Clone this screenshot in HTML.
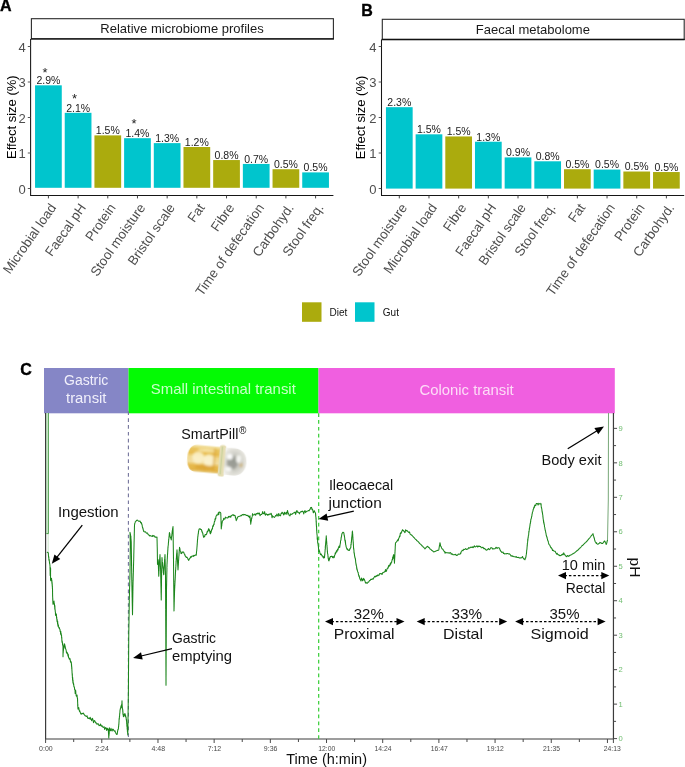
<!DOCTYPE html>
<html><head><meta charset="utf-8"><title>Figure</title>
<style>html,body{margin:0;padding:0;background:#fff}body{width:685px;height:767px;overflow:hidden}</style></head>
<body>
<svg width="685" height="767" viewBox="0 0 685 767" style="display:block">
<rect x="31.400000000000002" y="18.7" width="301.99999999999994" height="20.2" fill="#fff" stroke="#2a2a2a" stroke-width="1.1"/>
<path d="M30.900000000000002 38.9H333.9" stroke="#111" stroke-width="1.3"/>
<text x="182.0" y="33.4" text-anchor="middle" style="font-family:'Liberation Sans',Arial,sans-serif;font-size:13px" fill="#1a1a1a">Relative microbiome profiles</text>
<path d="M30.6 38.9V195.4H333.4" fill="none" stroke="#161616" stroke-width="1.05"/>
<path d="M27.8 188.5H30.6" stroke="#444" stroke-width="0.9"/>
<text x="25.700000000000003" y="193.6" text-anchor="end" style="font-family:'Liberation Sans',Arial,sans-serif;font-size:13px" fill="#4d4d4d">0</text>
<path d="M27.8 153.0H30.6" stroke="#444" stroke-width="0.9"/>
<text x="25.700000000000003" y="158.1" text-anchor="end" style="font-family:'Liberation Sans',Arial,sans-serif;font-size:13px" fill="#4d4d4d">1</text>
<path d="M27.8 117.5H30.6" stroke="#444" stroke-width="0.9"/>
<text x="25.700000000000003" y="122.6" text-anchor="end" style="font-family:'Liberation Sans',Arial,sans-serif;font-size:13px" fill="#4d4d4d">2</text>
<path d="M27.8 82.0H30.6" stroke="#444" stroke-width="0.9"/>
<text x="25.700000000000003" y="87.1" text-anchor="end" style="font-family:'Liberation Sans',Arial,sans-serif;font-size:13px" fill="#4d4d4d">3</text>
<path d="M27.8 46.5H30.6" stroke="#444" stroke-width="0.9"/>
<text x="25.700000000000003" y="51.6" text-anchor="end" style="font-family:'Liberation Sans',Arial,sans-serif;font-size:13px" fill="#4d4d4d">4</text>
<text transform="translate(16.0,117.15) rotate(-90)" text-anchor="middle" style="font-family:'Liberation Sans',Arial,sans-serif;font-size:13px" fill="#000">Effect size (%)</text>
<rect x="35.05" y="85.32" width="26.72" height="102.48" fill="#00c5cd"/>
<text x="48.41" y="84.12" text-anchor="middle" style="font-family:'Liberation Sans',Arial,sans-serif;font-size:10.5px" fill="#222">2.9%</text>
<text x="44.91" y="77.12" text-anchor="middle" style="font-family:'Liberation Sans',Arial,sans-serif;font-size:13px" fill="#222">*</text>
<path d="M48.41 195.4v3" stroke="#333" stroke-width="0.9"/>
<text transform="translate(49.01,202.10) rotate(-55)" text-anchor="end" dy="0.72em" style="font-family:'Liberation Sans',Arial,sans-serif;font-size:13.3px" fill="#4d4d4d">Microbial load</text>
<rect x="64.74" y="112.82" width="26.72" height="74.98" fill="#00c5cd"/>
<text x="78.10" y="111.62" text-anchor="middle" style="font-family:'Liberation Sans',Arial,sans-serif;font-size:10.5px" fill="#222">2.1%</text>
<text x="74.60" y="103.22" text-anchor="middle" style="font-family:'Liberation Sans',Arial,sans-serif;font-size:13px" fill="#222">*</text>
<path d="M78.10 195.4v3" stroke="#333" stroke-width="0.9"/>
<text transform="translate(78.70,202.10) rotate(-55)" text-anchor="end" dy="0.72em" style="font-family:'Liberation Sans',Arial,sans-serif;font-size:13.3px" fill="#4d4d4d">Faecal pH</text>
<rect x="94.43" y="135.38" width="26.72" height="52.42" fill="#abab0d"/>
<text x="107.78" y="134.18" text-anchor="middle" style="font-family:'Liberation Sans',Arial,sans-serif;font-size:10.5px" fill="#222">1.5%</text>
<path d="M107.78 195.4v3" stroke="#333" stroke-width="0.9"/>
<text transform="translate(108.38,202.10) rotate(-55)" text-anchor="end" dy="0.72em" style="font-family:'Liberation Sans',Arial,sans-serif;font-size:13.3px" fill="#4d4d4d">Protein</text>
<rect x="124.11" y="138.20" width="26.72" height="49.60" fill="#00c5cd"/>
<text x="137.47" y="137.00" text-anchor="middle" style="font-family:'Liberation Sans',Arial,sans-serif;font-size:10.5px" fill="#222">1.4%</text>
<text x="133.97" y="128.00" text-anchor="middle" style="font-family:'Liberation Sans',Arial,sans-serif;font-size:13px" fill="#222">*</text>
<path d="M137.47 195.4v3" stroke="#333" stroke-width="0.9"/>
<text transform="translate(138.07,202.10) rotate(-55)" text-anchor="end" dy="0.72em" style="font-family:'Liberation Sans',Arial,sans-serif;font-size:13.3px" fill="#4d4d4d">Stool moisture</text>
<rect x="153.80" y="143.13" width="26.72" height="44.67" fill="#00c5cd"/>
<text x="167.16" y="141.93" text-anchor="middle" style="font-family:'Liberation Sans',Arial,sans-serif;font-size:10.5px" fill="#222">1.3%</text>
<path d="M167.16 195.4v3" stroke="#333" stroke-width="0.9"/>
<text transform="translate(167.76,202.10) rotate(-55)" text-anchor="end" dy="0.72em" style="font-family:'Liberation Sans',Arial,sans-serif;font-size:13.3px" fill="#4d4d4d">Bristol scale</text>
<rect x="183.48" y="147.01" width="26.72" height="40.79" fill="#abab0d"/>
<text x="196.84" y="145.81" text-anchor="middle" style="font-family:'Liberation Sans',Arial,sans-serif;font-size:10.5px" fill="#222">1.2%</text>
<path d="M196.84 195.4v3" stroke="#333" stroke-width="0.9"/>
<text transform="translate(197.44,202.10) rotate(-55)" text-anchor="end" dy="0.72em" style="font-family:'Liberation Sans',Arial,sans-serif;font-size:13.3px" fill="#4d4d4d">Fat</text>
<rect x="213.17" y="160.05" width="26.72" height="27.75" fill="#abab0d"/>
<text x="226.53" y="158.85" text-anchor="middle" style="font-family:'Liberation Sans',Arial,sans-serif;font-size:10.5px" fill="#222">0.8%</text>
<path d="M226.53 195.4v3" stroke="#333" stroke-width="0.9"/>
<text transform="translate(227.13,202.10) rotate(-55)" text-anchor="end" dy="0.72em" style="font-family:'Liberation Sans',Arial,sans-serif;font-size:13.3px" fill="#4d4d4d">Fibre</text>
<rect x="242.86" y="163.93" width="26.72" height="23.87" fill="#00c5cd"/>
<text x="256.22" y="162.73" text-anchor="middle" style="font-family:'Liberation Sans',Arial,sans-serif;font-size:10.5px" fill="#222">0.7%</text>
<path d="M256.22 195.4v3" stroke="#333" stroke-width="0.9"/>
<text transform="translate(256.82,202.10) rotate(-55)" text-anchor="end" dy="0.72em" style="font-family:'Liberation Sans',Arial,sans-serif;font-size:13.3px" fill="#4d4d4d">Time of defecation</text>
<rect x="272.54" y="169.22" width="26.72" height="18.58" fill="#abab0d"/>
<text x="285.90" y="168.02" text-anchor="middle" style="font-family:'Liberation Sans',Arial,sans-serif;font-size:10.5px" fill="#222">0.5%</text>
<path d="M285.90 195.4v3" stroke="#333" stroke-width="0.9"/>
<text transform="translate(286.50,202.10) rotate(-55)" text-anchor="end" dy="0.72em" style="font-family:'Liberation Sans',Arial,sans-serif;font-size:13.3px" fill="#4d4d4d">Carbohyd.</text>
<rect x="302.23" y="172.39" width="26.72" height="15.41" fill="#00c5cd"/>
<text x="315.59" y="171.19" text-anchor="middle" style="font-family:'Liberation Sans',Arial,sans-serif;font-size:10.5px" fill="#222">0.5%</text>
<path d="M315.59 195.4v3" stroke="#333" stroke-width="0.9"/>
<text transform="translate(316.19,202.10) rotate(-55)" text-anchor="end" dy="0.72em" style="font-family:'Liberation Sans',Arial,sans-serif;font-size:13.3px" fill="#4d4d4d">Stool freq.</text>
<text x="0" y="11" style="font-family:'Liberation Sans',Arial,sans-serif;font-size:16px;font-weight:bold" fill="#000" stroke="#000" stroke-width="0.35">A</text>
<rect x="382.3" y="19.3" width="301.90000000000003" height="20.2" fill="#fff" stroke="#2a2a2a" stroke-width="1.1"/>
<path d="M381.8 39.5H684.7" stroke="#111" stroke-width="1.3"/>
<text x="532.85" y="34.0" text-anchor="middle" style="font-family:'Liberation Sans',Arial,sans-serif;font-size:13px" fill="#1a1a1a">Faecal metabolome</text>
<path d="M381.5 39.5V195.4H684.2" fill="none" stroke="#161616" stroke-width="1.05"/>
<path d="M378.7 188.5H381.5" stroke="#444" stroke-width="0.9"/>
<text x="376.6" y="193.6" text-anchor="end" style="font-family:'Liberation Sans',Arial,sans-serif;font-size:13px" fill="#4d4d4d">0</text>
<path d="M378.7 153.0H381.5" stroke="#444" stroke-width="0.9"/>
<text x="376.6" y="158.1" text-anchor="end" style="font-family:'Liberation Sans',Arial,sans-serif;font-size:13px" fill="#4d4d4d">1</text>
<path d="M378.7 117.5H381.5" stroke="#444" stroke-width="0.9"/>
<text x="376.6" y="122.6" text-anchor="end" style="font-family:'Liberation Sans',Arial,sans-serif;font-size:13px" fill="#4d4d4d">2</text>
<path d="M378.7 82.0H381.5" stroke="#444" stroke-width="0.9"/>
<text x="376.6" y="87.1" text-anchor="end" style="font-family:'Liberation Sans',Arial,sans-serif;font-size:13px" fill="#4d4d4d">3</text>
<path d="M378.7 46.5H381.5" stroke="#444" stroke-width="0.9"/>
<text x="376.6" y="51.6" text-anchor="end" style="font-family:'Liberation Sans',Arial,sans-serif;font-size:13px" fill="#4d4d4d">4</text>
<text transform="translate(364.9,117.45) rotate(-90)" text-anchor="middle" style="font-family:'Liberation Sans',Arial,sans-serif;font-size:13px" fill="#000">Effect size (%)</text>
<rect x="385.95" y="107.18" width="26.71" height="81.42" fill="#00c5cd"/>
<text x="399.31" y="105.98" text-anchor="middle" style="font-family:'Liberation Sans',Arial,sans-serif;font-size:10.5px" fill="#222">2.3%</text>
<path d="M399.31 195.4v3" stroke="#333" stroke-width="0.9"/>
<text transform="translate(399.91,202.10) rotate(-55)" text-anchor="end" dy="0.72em" style="font-family:'Liberation Sans',Arial,sans-serif;font-size:13.3px" fill="#4d4d4d">Stool moisture</text>
<rect x="415.63" y="134.32" width="26.71" height="54.28" fill="#00c5cd"/>
<text x="428.98" y="133.12" text-anchor="middle" style="font-family:'Liberation Sans',Arial,sans-serif;font-size:10.5px" fill="#222">1.5%</text>
<path d="M428.98 195.4v3" stroke="#333" stroke-width="0.9"/>
<text transform="translate(429.58,202.10) rotate(-55)" text-anchor="end" dy="0.72em" style="font-family:'Liberation Sans',Arial,sans-serif;font-size:13.3px" fill="#4d4d4d">Microbial load</text>
<rect x="445.30" y="136.44" width="26.71" height="52.16" fill="#abab0d"/>
<text x="458.66" y="135.24" text-anchor="middle" style="font-family:'Liberation Sans',Arial,sans-serif;font-size:10.5px" fill="#222">1.5%</text>
<path d="M458.66 195.4v3" stroke="#333" stroke-width="0.9"/>
<text transform="translate(459.26,202.10) rotate(-55)" text-anchor="end" dy="0.72em" style="font-family:'Liberation Sans',Arial,sans-serif;font-size:13.3px" fill="#4d4d4d">Fibre</text>
<rect x="474.98" y="141.72" width="26.71" height="46.88" fill="#00c5cd"/>
<text x="488.34" y="140.52" text-anchor="middle" style="font-family:'Liberation Sans',Arial,sans-serif;font-size:10.5px" fill="#222">1.3%</text>
<path d="M488.34 195.4v3" stroke="#333" stroke-width="0.9"/>
<text transform="translate(488.94,202.10) rotate(-55)" text-anchor="end" dy="0.72em" style="font-family:'Liberation Sans',Arial,sans-serif;font-size:13.3px" fill="#4d4d4d">Faecal pH</text>
<rect x="504.66" y="157.41" width="26.71" height="31.19" fill="#00c5cd"/>
<text x="518.01" y="156.21" text-anchor="middle" style="font-family:'Liberation Sans',Arial,sans-serif;font-size:10.5px" fill="#222">0.9%</text>
<path d="M518.01 195.4v3" stroke="#333" stroke-width="0.9"/>
<text transform="translate(518.61,202.10) rotate(-55)" text-anchor="end" dy="0.72em" style="font-family:'Liberation Sans',Arial,sans-serif;font-size:13.3px" fill="#4d4d4d">Bristol scale</text>
<rect x="534.33" y="161.29" width="26.71" height="27.31" fill="#00c5cd"/>
<text x="547.69" y="160.09" text-anchor="middle" style="font-family:'Liberation Sans',Arial,sans-serif;font-size:10.5px" fill="#222">0.8%</text>
<path d="M547.69 195.4v3" stroke="#333" stroke-width="0.9"/>
<text transform="translate(548.29,202.10) rotate(-55)" text-anchor="end" dy="0.72em" style="font-family:'Liberation Sans',Arial,sans-serif;font-size:13.3px" fill="#4d4d4d">Stool freq.</text>
<rect x="564.01" y="169.22" width="26.71" height="19.38" fill="#abab0d"/>
<text x="577.36" y="168.02" text-anchor="middle" style="font-family:'Liberation Sans',Arial,sans-serif;font-size:10.5px" fill="#222">0.5%</text>
<path d="M577.36 195.4v3" stroke="#333" stroke-width="0.9"/>
<text transform="translate(577.96,202.10) rotate(-55)" text-anchor="end" dy="0.72em" style="font-family:'Liberation Sans',Arial,sans-serif;font-size:13.3px" fill="#4d4d4d">Fat</text>
<rect x="593.69" y="169.57" width="26.71" height="19.03" fill="#00c5cd"/>
<text x="607.04" y="168.37" text-anchor="middle" style="font-family:'Liberation Sans',Arial,sans-serif;font-size:10.5px" fill="#222">0.5%</text>
<path d="M607.04 195.4v3" stroke="#333" stroke-width="0.9"/>
<text transform="translate(607.64,202.10) rotate(-55)" text-anchor="end" dy="0.72em" style="font-family:'Liberation Sans',Arial,sans-serif;font-size:13.3px" fill="#4d4d4d">Time of defecation</text>
<rect x="623.36" y="171.51" width="26.71" height="17.09" fill="#abab0d"/>
<text x="636.72" y="170.31" text-anchor="middle" style="font-family:'Liberation Sans',Arial,sans-serif;font-size:10.5px" fill="#222">0.5%</text>
<path d="M636.72 195.4v3" stroke="#333" stroke-width="0.9"/>
<text transform="translate(637.32,202.10) rotate(-55)" text-anchor="end" dy="0.72em" style="font-family:'Liberation Sans',Arial,sans-serif;font-size:13.3px" fill="#4d4d4d">Protein</text>
<rect x="653.04" y="172.04" width="26.71" height="16.56" fill="#abab0d"/>
<text x="666.39" y="170.84" text-anchor="middle" style="font-family:'Liberation Sans',Arial,sans-serif;font-size:10.5px" fill="#222">0.5%</text>
<path d="M666.39 195.4v3" stroke="#333" stroke-width="0.9"/>
<text transform="translate(666.99,202.10) rotate(-55)" text-anchor="end" dy="0.72em" style="font-family:'Liberation Sans',Arial,sans-serif;font-size:13.3px" fill="#4d4d4d">Carbohyd.</text>
<text x="361.3" y="16" style="font-family:'Liberation Sans',Arial,sans-serif;font-size:16px;font-weight:bold" fill="#000" stroke="#000" stroke-width="0.35">B</text>
<rect x="302" y="302.3" width="19.5" height="19.5" fill="#abab0d"/>
<text x="329.5" y="316" style="font-family:'Liberation Sans',Arial,sans-serif;font-size:10px" fill="#111">Diet</text>
<rect x="355" y="302.3" width="19.5" height="19.5" fill="#00c5cd"/>
<text x="382.8" y="316" style="font-family:'Liberation Sans',Arial,sans-serif;font-size:10px" fill="#111">Gut</text>
<text x="20.3" y="375.4" style="font-family:'Liberation Sans',Arial,sans-serif;font-size:16px;font-weight:bold" fill="#000" stroke="#000" stroke-width="0.35">C</text>
<rect x="44" y="368" width="84.5" height="45.3" fill="#8586c6"/>
<rect x="128.5" y="368" width="190" height="45.3" fill="#04fa04"/>
<rect x="318.5" y="368" width="296.3" height="45.3" fill="#f05fe0"/>
<text x="86.2" y="385.4" text-anchor="middle" style="font-family:'Liberation Sans',Arial,sans-serif;font-size:14px" fill="#f1f0fb">Gastric</text>
<text x="66" y="403" textLength="40.5" lengthAdjust="spacingAndGlyphs" style="font-family:'Liberation Sans',Arial,sans-serif;font-size:14px" fill="#f1f0fb">transit</text>
<text x="223.3" y="394.2" text-anchor="middle" textLength="145" lengthAdjust="spacingAndGlyphs" style="font-family:'Liberation Sans',Arial,sans-serif;font-size:14.5px" fill="#c9ffc9">Small intestinal transit</text>
<text x="419.4" y="394.5" textLength="94.3" lengthAdjust="spacingAndGlyphs" style="font-family:'Liberation Sans',Arial,sans-serif;font-size:14.5px" fill="#fddcf7">Colonic transit</text>
<path d="M45.6 413V739H613.45V413" fill="none" stroke="#3c3c3c" stroke-width="1.2"/>
<path d="M45.60 739v4" stroke="#4a4a4a" stroke-width="1"/>
<text x="39.10" y="751" textLength="13.6" lengthAdjust="spacingAndGlyphs" style="font-family:'Liberation Sans',Arial,sans-serif;font-size:7.6px" fill="#484848">0:00</text>
<path d="M73.69 739v3" stroke="#4a4a4a" stroke-width="1"/>
<path d="M101.78 739v4" stroke="#4a4a4a" stroke-width="1"/>
<text x="95.28" y="751" textLength="13.6" lengthAdjust="spacingAndGlyphs" style="font-family:'Liberation Sans',Arial,sans-serif;font-size:7.6px" fill="#484848">2:24</text>
<path d="M129.88 739v3" stroke="#4a4a4a" stroke-width="1"/>
<path d="M157.97 739v4" stroke="#4a4a4a" stroke-width="1"/>
<text x="151.47" y="751" textLength="13.6" lengthAdjust="spacingAndGlyphs" style="font-family:'Liberation Sans',Arial,sans-serif;font-size:7.6px" fill="#484848">4:48</text>
<path d="M186.06 739v3" stroke="#4a4a4a" stroke-width="1"/>
<path d="M214.15 739v4" stroke="#4a4a4a" stroke-width="1"/>
<text x="207.65" y="751" textLength="13.6" lengthAdjust="spacingAndGlyphs" style="font-family:'Liberation Sans',Arial,sans-serif;font-size:7.6px" fill="#484848">7:12</text>
<path d="M242.24 739v3" stroke="#4a4a4a" stroke-width="1"/>
<path d="M270.34 739v4" stroke="#4a4a4a" stroke-width="1"/>
<text x="263.84" y="751" textLength="13.6" lengthAdjust="spacingAndGlyphs" style="font-family:'Liberation Sans',Arial,sans-serif;font-size:7.6px" fill="#484848">9:36</text>
<path d="M298.43 739v3" stroke="#4a4a4a" stroke-width="1"/>
<path d="M326.52 739v4" stroke="#4a4a4a" stroke-width="1"/>
<text x="318.32" y="751" textLength="17" lengthAdjust="spacingAndGlyphs" style="font-family:'Liberation Sans',Arial,sans-serif;font-size:7.6px" fill="#484848">12:00</text>
<path d="M354.61 739v3" stroke="#4a4a4a" stroke-width="1"/>
<path d="M382.70 739v4" stroke="#4a4a4a" stroke-width="1"/>
<text x="374.50" y="751" textLength="17" lengthAdjust="spacingAndGlyphs" style="font-family:'Liberation Sans',Arial,sans-serif;font-size:7.6px" fill="#484848">14:24</text>
<path d="M410.80 739v3" stroke="#4a4a4a" stroke-width="1"/>
<path d="M438.89 739v4" stroke="#4a4a4a" stroke-width="1"/>
<text x="430.69" y="751" textLength="17" lengthAdjust="spacingAndGlyphs" style="font-family:'Liberation Sans',Arial,sans-serif;font-size:7.6px" fill="#484848">16:47</text>
<path d="M466.98 739v3" stroke="#4a4a4a" stroke-width="1"/>
<path d="M495.07 739v4" stroke="#4a4a4a" stroke-width="1"/>
<text x="486.87" y="751" textLength="17" lengthAdjust="spacingAndGlyphs" style="font-family:'Liberation Sans',Arial,sans-serif;font-size:7.6px" fill="#484848">19:12</text>
<path d="M523.16 739v3" stroke="#4a4a4a" stroke-width="1"/>
<path d="M551.26 739v4" stroke="#4a4a4a" stroke-width="1"/>
<text x="543.06" y="751" textLength="17" lengthAdjust="spacingAndGlyphs" style="font-family:'Liberation Sans',Arial,sans-serif;font-size:7.6px" fill="#484848">21:35</text>
<path d="M579.35 739v3" stroke="#4a4a4a" stroke-width="1"/>
<path d="M607.44 739v4" stroke="#4a4a4a" stroke-width="1"/>
<path d="M613.4 739v4" stroke="#4a4a4a" stroke-width="1"/>
<text x="603.7" y="751" textLength="17" lengthAdjust="spacingAndGlyphs" style="font-family:'Liberation Sans',Arial,sans-serif;font-size:7.6px" fill="#484848">24:13</text>
<text x="286.2" y="763.7" textLength="80.8" lengthAdjust="spacingAndGlyphs" style="font-family:'Liberation Sans',Arial,sans-serif;font-size:14.8px" fill="#111">Time (h:min)</text>
<path d="M613.45 738.60h3.6" stroke="#4a4a4a" stroke-width="1"/>
<text x="620.6" y="741.30" text-anchor="middle" style="font-family:'Liberation Sans',Arial,sans-serif;font-size:7.6px" fill="#70bd70">0</text>
<path d="M613.45 721.37h2.6" stroke="#4a4a4a" stroke-width="1"/>
<path d="M613.45 704.13h3.6" stroke="#4a4a4a" stroke-width="1"/>
<text x="620.6" y="706.83" text-anchor="middle" style="font-family:'Liberation Sans',Arial,sans-serif;font-size:7.6px" fill="#70bd70">1</text>
<path d="M613.45 686.90h2.6" stroke="#4a4a4a" stroke-width="1"/>
<path d="M613.45 669.66h3.6" stroke="#4a4a4a" stroke-width="1"/>
<text x="620.6" y="672.36" text-anchor="middle" style="font-family:'Liberation Sans',Arial,sans-serif;font-size:7.6px" fill="#70bd70">2</text>
<path d="M613.45 652.43h2.6" stroke="#4a4a4a" stroke-width="1"/>
<path d="M613.45 635.19h3.6" stroke="#4a4a4a" stroke-width="1"/>
<text x="620.6" y="637.89" text-anchor="middle" style="font-family:'Liberation Sans',Arial,sans-serif;font-size:7.6px" fill="#70bd70">3</text>
<path d="M613.45 617.96h2.6" stroke="#4a4a4a" stroke-width="1"/>
<path d="M613.45 600.72h3.6" stroke="#4a4a4a" stroke-width="1"/>
<text x="620.6" y="603.42" text-anchor="middle" style="font-family:'Liberation Sans',Arial,sans-serif;font-size:7.6px" fill="#70bd70">4</text>
<path d="M613.45 583.49h2.6" stroke="#4a4a4a" stroke-width="1"/>
<path d="M613.45 566.25h3.6" stroke="#4a4a4a" stroke-width="1"/>
<text x="620.6" y="568.95" text-anchor="middle" style="font-family:'Liberation Sans',Arial,sans-serif;font-size:7.6px" fill="#70bd70">5</text>
<path d="M613.45 549.02h2.6" stroke="#4a4a4a" stroke-width="1"/>
<path d="M613.45 531.78h3.6" stroke="#4a4a4a" stroke-width="1"/>
<text x="620.6" y="534.48" text-anchor="middle" style="font-family:'Liberation Sans',Arial,sans-serif;font-size:7.6px" fill="#70bd70">6</text>
<path d="M613.45 514.55h2.6" stroke="#4a4a4a" stroke-width="1"/>
<path d="M613.45 497.31h3.6" stroke="#4a4a4a" stroke-width="1"/>
<text x="620.6" y="500.01" text-anchor="middle" style="font-family:'Liberation Sans',Arial,sans-serif;font-size:7.6px" fill="#70bd70">7</text>
<path d="M613.45 480.08h2.6" stroke="#4a4a4a" stroke-width="1"/>
<path d="M613.45 462.84h3.6" stroke="#4a4a4a" stroke-width="1"/>
<text x="620.6" y="465.54" text-anchor="middle" style="font-family:'Liberation Sans',Arial,sans-serif;font-size:7.6px" fill="#70bd70">8</text>
<path d="M613.45 445.61h2.6" stroke="#4a4a4a" stroke-width="1"/>
<path d="M613.45 428.37h3.6" stroke="#4a4a4a" stroke-width="1"/>
<text x="620.6" y="431.07" text-anchor="middle" style="font-family:'Liberation Sans',Arial,sans-serif;font-size:7.6px" fill="#70bd70">9</text>
<text transform="translate(629.5,567.5) rotate(90)" text-anchor="middle" style="font-family:'Liberation Sans',Arial,sans-serif;font-size:15.5px" fill="#111">pH</text>
<path d="M128.4 411.35V739" stroke="#74749c" stroke-width="1.1" stroke-dasharray="3.7 3.15" fill="none"/>
<path d="M318.7 413.2V739" stroke="#2ccb2c" stroke-width="1.15" stroke-dasharray="3.7 3.15" fill="none"/>
<path d="M47.4 413V533.5" stroke="#d9efd9" stroke-width="1.2" fill="none"/>
<path d="M48.2 533V552.5" stroke="#d4e9d4" stroke-width="1.2" fill="none"/>
<path d="M46.55 413V533.6" stroke="#9ccf9c" stroke-width="0.8" fill="none"/>
<path d="M48.4 413V533.6H46.3" stroke="#2f8f2f" stroke-width="0.85" fill="none"/>
<path d="M607.5 540L608.3 500L608.5 413" stroke="#78a878" stroke-width="1" fill="none"/>
<polyline fill="none" stroke="#1c861c" stroke-width="1.05" stroke-linejoin="round" points="46.90,552.00 47.35,552.33 47.80,552.67 48.25,552.72 48.31,552.75 48.38,553.97 48.44,555.75 48.50,555.72 48.56,556.85 48.62,556.72 48.69,557.44 48.75,557.83 48.81,556.75 48.88,559.60 48.94,559.87 49.00,560.45 49.10,559.03 49.20,559.53 49.30,560.85 49.40,561.78 49.50,563.02 49.60,563.26 49.70,564.32 49.80,563.82 49.90,565.23 50.00,565.85 50.01,565.46 50.02,568.16 50.04,567.68 50.05,568.81 50.06,567.74 50.07,568.19 50.08,569.10 50.09,569.87 50.11,571.10 50.12,571.31 50.13,571.24 50.14,571.34 50.15,572.30 50.16,574.42 50.18,573.16 50.19,574.66 50.20,575.38 50.23,573.08 50.27,573.88 50.30,574.43 50.33,570.85 50.37,571.79 50.40,571.40 50.43,570.18 50.47,570.78 50.50,569.69 50.53,567.85 50.57,569.33 50.60,568.60 50.60,569.42 50.59,570.43 50.59,570.03 50.58,570.38 50.58,569.67 50.57,571.96 50.57,571.43 50.56,572.14 50.56,571.98 50.55,572.81 50.55,573.77 50.55,575.98 50.54,573.56 50.54,574.64 50.53,576.74 50.53,578.39 50.52,578.18 50.52,576.52 50.51,576.53 50.51,579.69 50.50,579.27 50.50,579.49 50.75,580.75 51.00,580.24 51.25,578.77 51.50,578.22 51.56,578.95 51.61,580.55 51.67,580.22 51.72,580.69 51.78,581.27 51.83,579.92 51.89,583.04 51.94,583.30 52.00,583.48 52.06,581.78 52.11,583.54 52.17,585.42 52.22,583.59 52.28,585.61 52.33,587.25 52.39,585.71 52.44,588.89 52.50,588.50 52.51,588.44 52.51,589.44 52.52,590.30 52.53,590.39 52.54,591.89 52.54,590.83 52.55,591.63 52.56,593.51 52.56,593.17 52.57,592.92 52.58,595.14 52.59,596.18 52.59,595.03 52.60,594.76 52.63,596.45 52.66,597.01 52.69,597.45 52.71,599.55 52.74,597.93 52.77,600.56 52.80,598.86 52.83,599.86 52.86,601.71 52.89,602.73 52.91,603.06 52.94,603.17 52.97,603.56 53.00,604.14 53.20,603.92 53.40,602.64 53.60,602.45 53.80,602.12 54.00,601.00 54.07,602.26 54.14,602.65 54.21,604.52 54.29,603.58 54.36,603.47 54.43,604.09 54.50,604.99 54.57,606.40 54.64,605.84 54.71,607.06 54.79,608.94 54.86,605.55 54.93,607.42 55.00,609.22 55.07,609.93 55.14,610.36 55.21,610.33 55.29,611.88 55.36,612.11 55.43,611.96 55.50,615.19 55.64,613.89 55.79,613.64 55.93,614.62 56.07,615.08 56.21,615.80 56.36,613.97 56.50,616.56 56.60,618.47 56.70,617.08 56.80,618.64 56.90,620.12 57.00,620.60 57.10,621.74 57.20,619.44 57.30,621.22 57.40,621.79 57.50,623.23 57.60,624.22 57.70,621.39 57.80,625.35 57.90,623.63 58.00,626.11 58.30,624.66 58.60,626.66 58.90,628.08 59.20,627.37 59.50,628.17 59.66,629.26 59.82,629.22 59.98,629.56 60.14,631.56 60.30,631.67 60.45,631.01 60.61,634.29 60.77,631.33 60.93,633.73 61.09,633.22 61.25,634.12 61.31,635.22 61.38,635.37 61.44,636.32 61.50,634.96 61.56,635.56 61.62,638.05 61.69,637.22 61.75,637.74 61.81,637.93 61.88,640.97 61.94,641.09 62.00,642.33 62.12,640.72 62.25,642.13 62.38,641.66 62.50,643.94 62.62,645.24 62.75,643.57 62.88,646.34 63.00,646.39 63.00,645.90 63.00,644.84 63.00,648.43 63.00,647.64 63.00,647.74 63.00,649.19 63.00,649.76 63.00,651.29 63.00,649.58 63.00,652.08 63.00,652.95 63.00,653.47 63.00,652.56 63.00,652.61 63.00,654.75 63.00,654.49 63.00,655.06 63.00,656.78 63.04,654.70 63.08,652.30 63.12,653.45 63.16,651.56 63.20,653.40 63.24,652.39 63.28,650.98 63.32,650.96 63.36,651.15 63.40,649.90 63.44,650.46 63.48,648.64 63.52,649.07 63.56,648.91 63.60,648.45 63.90,645.90 64.20,646.79 64.50,643.81 64.69,645.09 64.88,644.86 65.06,648.15 65.25,646.64 65.44,648.30 65.62,648.70 65.81,649.41 66.00,649.47 66.21,650.78 66.43,652.75 66.64,651.75 66.86,652.76 67.07,653.76 67.29,653.25 67.50,652.87 67.72,654.06 67.94,656.08 68.17,654.19 68.39,655.68 68.61,657.68 68.83,658.05 69.06,657.90 69.28,659.17 69.50,659.15 69.75,658.51 70.00,658.74 70.25,660.14 70.50,662.12 70.75,661.35 71.00,661.62 71.25,662.31 71.30,662.19 71.36,664.04 71.41,663.65 71.46,665.61 71.52,663.73 71.57,666.72 71.62,666.42 71.68,665.82 71.73,668.80 71.79,668.47 71.84,667.28 71.89,669.07 71.95,670.69 72.00,670.59 72.04,672.29 72.08,672.84 72.12,673.35 72.17,673.63 72.21,675.12 72.25,675.09 72.29,675.49 72.33,673.79 72.38,677.06 72.42,678.01 72.46,677.15 72.50,677.58 72.60,680.33 72.70,677.58 72.80,680.17 72.90,682.51 73.00,680.08 73.10,682.12 73.20,683.78 73.30,682.56 73.40,683.76 73.50,684.65 73.60,683.60 73.70,684.92 73.83,685.81 73.96,686.84 74.09,686.62 74.22,687.02 74.35,686.84 74.48,687.98 74.61,689.65 74.74,689.49 74.87,689.18 75.00,689.74 75.17,693.46 75.35,692.65 75.53,692.76 75.70,690.42 75.88,693.87 76.05,694.31 76.23,695.95 76.40,695.38 76.62,695.54 76.84,696.67 77.06,695.05 77.28,698.33 77.50,698.29 77.52,697.97 77.54,700.39 77.56,701.43 77.58,699.14 77.60,700.40 77.62,701.86 77.64,702.37 77.66,702.44 77.68,702.52 77.70,705.91 77.74,705.51 77.79,704.07 77.83,704.50 77.87,707.82 77.91,707.75 77.96,709.07 78.00,708.73 78.25,707.72 78.50,709.23 78.75,707.56 79.00,709.33 79.25,710.45 79.50,711.47 79.79,710.85 80.08,711.89 80.38,712.91 80.67,713.34 80.96,714.07 81.25,714.19 81.88,713.21 82.50,713.71 82.92,713.46 83.33,713.09 83.75,713.69 84.17,714.67 84.58,714.98 85.00,715.64 85.50,715.83 86.00,716.32 86.50,716.38 87.00,715.70 87.50,717.55 88.00,718.45 88.45,718.21 88.90,717.97 89.35,718.86 89.80,717.91 90.25,717.39 90.70,719.47 91.15,718.90 91.60,720.73 92.05,719.40 92.50,718.33 93.00,720.02 93.50,722.63 94.00,721.12 94.50,720.49 95.00,721.29 95.50,722.70 96.00,722.94 96.50,722.90 97.00,724.34 97.50,723.92 98.00,723.56 98.50,724.40 99.00,725.64 99.50,725.31 100.00,725.65 100.50,724.04 101.00,725.17 101.53,726.23 102.05,725.57 102.58,727.07 103.10,726.92 103.62,727.47 104.15,726.73 104.67,729.48 105.20,728.58 105.72,727.54 106.25,728.08 106.76,730.59 107.28,728.19 107.79,729.54 108.30,729.88 108.33,729.57 108.36,729.07 108.39,730.86 108.42,731.57 108.46,732.83 108.49,733.08 108.52,732.96 108.55,734.27 108.58,734.55 108.61,734.81 108.64,735.24 108.67,735.53 108.71,736.93 108.74,735.93 108.77,736.87 108.80,738.00 108.84,736.12 108.88,736.47 108.92,734.49 108.96,735.12 109.00,735.68 109.04,735.11 109.08,733.98 109.12,733.26 109.16,731.62 109.20,733.98 109.24,732.23 109.28,732.18 109.32,729.84 109.36,729.90 109.40,727.86 109.93,730.37 110.47,730.67 111.00,728.29 111.55,730.20 112.10,731.07 112.65,729.16 113.20,729.36 113.80,730.37 114.40,731.10 115.00,730.74 115.42,732.48 115.85,733.12 116.28,733.92 116.70,734.43 117.00,734.55 117.30,733.65 117.60,730.82 117.73,730.97 117.86,729.90 117.99,729.32 118.11,729.64 118.24,729.15 118.37,729.01 118.50,726.57 118.55,726.31 118.60,726.84 118.65,726.11 118.70,725.43 118.75,725.09 118.80,723.89 118.85,724.63 118.90,723.75 118.95,722.78 119.00,721.68 119.05,721.56 119.10,718.69 119.15,719.69 119.20,720.03 119.25,718.07 119.30,719.04 119.35,718.42 119.40,716.47 119.45,716.92 119.50,716.29 119.55,716.41 119.60,715.98 119.65,714.82 119.70,713.52 119.75,713.58 119.80,713.08 119.85,713.23 119.90,712.26 120.00,710.79 120.10,709.67 120.20,710.00 120.30,709.11 120.40,708.22 120.50,708.56 120.60,707.67 120.70,707.65 120.80,707.47 120.97,706.06 121.14,707.95 121.31,705.00 121.49,705.71 121.66,704.25 121.83,704.58 122.00,700.86 122.06,702.91 122.12,704.39 122.17,705.29 122.23,707.44 122.29,706.21 122.35,707.65 122.41,707.77 122.47,708.52 122.53,708.71 122.58,708.69 122.64,709.87 122.70,709.03 122.76,711.64 122.83,710.23 122.89,711.94 122.95,714.20 123.02,712.66 123.08,713.45 123.15,715.06 123.21,714.61 123.27,714.43 123.34,715.96 123.40,716.82 123.60,716.36 123.80,714.45 124.00,716.15 124.20,715.50 124.90,713.42 125.08,714.29 125.25,714.31 125.42,716.62 125.60,715.37 125.76,717.25 125.92,716.85 126.08,717.30 126.24,719.21 126.40,720.40 126.45,719.75 126.50,719.70 126.55,721.60 126.60,721.38 126.65,722.27 126.70,723.91 126.75,724.12 126.80,723.19 126.85,726.27 126.90,724.77 126.95,726.04 127.00,725.30 127.05,726.40 127.10,725.43 127.15,729.18 127.20,729.37 127.25,727.62 127.30,727.93 127.35,728.40 127.40,731.49 127.45,730.59 127.50,731.52 127.55,731.86 127.60,732.61 127.65,732.31 127.70,733.88 127.75,733.13 127.80,734.94 127.81,734.72 127.81,734.31 127.82,733.12 127.83,731.96 127.84,732.37 127.84,731.23 127.85,732.52 127.86,731.25 127.87,729.90 127.87,729.02 127.88,728.26 127.89,727.49 127.90,727.46 127.90,727.49 127.91,727.13 127.92,726.62 127.93,727.44 127.93,724.37 127.94,724.46 127.95,726.40 127.96,721.65 127.96,722.31 127.97,722.37 127.98,721.81 127.99,721.48 127.99,720.34 128.00,720.16 128.01,719.47 128.01,719.24 128.02,717.48 128.03,717.38 128.04,717.22 128.04,716.20 128.05,715.64 128.06,715.84 128.07,714.71 128.07,714.73 128.08,714.22 128.09,713.47 128.10,713.01 128.10,712.18 128.11,711.03 128.12,711.10 128.13,710.76 128.13,709.76 128.14,709.40 128.15,709.23 128.16,707.94 128.16,708.07 128.17,708.06 128.18,706.42 128.19,706.18 128.19,705.49 128.20,705.69 128.21,704.59 128.21,704.29 128.22,703.02 128.23,702.77 128.24,702.22 128.24,700.87 128.25,701.76 128.26,700.96 128.27,699.21 128.27,699.78 128.28,698.83 128.29,698.54 128.30,697.94 128.30,696.55 128.31,696.57 128.32,696.78 128.33,695.30 128.33,694.54 128.34,693.83 128.35,693.34 128.36,693.48 128.36,693.54 128.37,692.42 128.38,691.78 128.39,692.12 128.39,690.32 128.40,689.70 128.40,689.69 128.41,689.15 128.41,687.89 128.41,687.27 128.42,687.38 128.42,686.81 128.42,685.56 128.43,685.50 128.43,684.80 128.44,684.70 128.44,683.89 128.44,683.36 128.45,682.68 128.45,682.77 128.45,682.37 128.46,681.03 128.46,681.02 128.46,679.75 128.47,679.57 128.47,679.33 128.47,679.12 128.48,677.72 128.48,677.31 128.48,676.88 128.49,675.56 128.49,675.69 128.50,674.83 128.50,674.75 128.50,673.53 128.51,672.60 128.51,672.95 128.51,672.50 128.52,671.59 128.52,671.68 128.52,670.61 128.53,669.91 128.53,669.85 128.53,668.38 128.54,668.23 128.54,667.97 128.54,667.81 128.55,666.81 128.55,666.47 128.56,665.48 128.56,665.36 128.56,665.43 128.57,663.82 128.57,664.64 128.57,662.74 128.58,662.48 128.58,662.00 128.58,661.83 128.59,660.27 128.59,659.33 128.59,659.99 128.60,659.53 128.60,658.90 128.61,659.25 128.61,657.61 128.61,657.08 128.62,656.84 128.62,656.03 128.62,656.07 128.63,654.21 128.63,654.05 128.63,652.12 128.64,653.48 128.64,652.40 128.64,652.43 128.65,652.43 128.65,650.91 128.65,650.25 128.66,649.59 128.66,648.89 128.67,648.43 128.67,648.45 128.67,647.63 128.68,647.09 128.68,646.43 128.68,646.37 128.69,645.63 128.69,644.79 128.69,644.61 128.70,643.69 128.70,642.69 128.70,643.31 128.71,642.32 128.71,641.12 128.71,641.49 128.72,640.61 128.72,639.20 128.73,640.08 128.73,638.95 128.73,638.65 128.74,637.79 128.74,637.08 128.74,635.90 128.75,636.49 128.75,635.51 128.76,634.82 128.77,634.55 128.78,633.87 128.78,633.59 128.79,632.56 128.80,632.16 128.81,630.65 128.82,630.87 128.83,630.81 128.84,630.55 128.84,629.23 128.85,628.79 128.86,629.00 128.87,627.59 128.88,627.51 128.89,627.38 128.90,626.09 128.90,626.07 128.91,624.64 128.92,624.50 128.93,623.82 128.94,623.35 128.95,623.25 128.96,623.26 128.96,621.33 128.97,620.82 128.98,620.75 128.99,619.49 129.00,619.64 129.01,619.12 129.02,618.18 129.03,617.99 129.03,616.50 129.04,616.98 129.05,615.39 129.06,615.22 129.07,614.73 129.08,614.24 129.09,614.25 129.09,613.35 129.10,612.58 129.11,612.45 129.12,612.36 129.13,611.10 129.14,610.70 129.15,610.54 129.15,609.55 129.16,608.30 129.17,609.44 129.18,608.76 129.19,606.32 129.20,606.64 129.21,606.29 129.21,605.98 129.22,605.29 129.23,604.32 129.24,603.41 129.25,603.37 129.26,603.24 129.27,601.73 129.27,601.20 129.28,601.10 129.29,599.68 129.30,599.88 129.31,599.25 129.33,599.10 129.34,598.03 129.36,597.40 129.37,597.07 129.39,596.67 129.40,595.84 129.41,595.60 129.43,595.38 129.44,595.02 129.46,594.71 129.47,593.04 129.49,592.65 129.50,591.17 129.51,592.59 129.53,590.86 129.54,590.62 129.56,590.32 129.57,588.92 129.59,589.19 129.60,588.42 129.61,587.06 129.63,587.46 129.64,587.31 129.66,585.38 129.67,586.04 129.69,585.22 129.70,584.79 129.71,584.22 129.73,584.06 129.74,582.82 129.76,582.76 129.77,581.63 129.79,581.59 129.80,580.35 129.81,580.11 129.83,580.39 129.84,579.26 129.86,578.44 129.87,577.44 129.89,577.05 129.90,576.94 129.91,576.73 129.93,575.95 129.94,575.44 129.96,574.63 129.97,574.71 129.99,573.38 130.00,572.75 130.01,572.84 130.01,571.91 130.02,571.19 130.02,570.50 130.03,570.08 130.04,569.92 130.04,569.24 130.05,567.98 130.05,568.15 130.06,567.48 130.07,566.39 130.07,566.63 130.08,565.59 130.08,565.01 130.09,564.96 130.10,564.63 130.10,563.17 130.11,563.12 130.11,561.97 130.12,562.84 130.13,561.02 130.13,561.22 130.14,559.83 130.14,559.93 130.15,560.00 130.16,557.30 130.16,557.68 130.17,557.55 130.17,556.72 130.18,555.90 130.19,556.61 130.19,555.12 130.20,553.78 130.20,554.34 130.21,552.63 130.22,553.36 130.22,552.02 130.23,551.79 130.23,551.73 130.24,550.65 130.25,549.41 130.25,548.72 130.26,549.45 130.26,548.69 130.27,547.43 130.28,547.63 130.28,546.90 130.29,546.41 130.29,544.54 130.30,544.86 130.29,544.84 130.27,544.19 130.26,543.69 130.25,541.62 130.23,542.24 130.22,541.81 130.20,542.17 130.19,540.03 130.18,539.74 130.16,539.33 130.15,539.15 130.14,537.98 130.12,538.13 130.11,536.69 130.10,536.60 130.08,535.67 130.07,535.41 130.05,534.46 130.04,533.49 130.03,534.13 130.01,533.20 130.00,532.25 130.13,533.17 130.27,534.11 130.40,533.81 130.53,534.78 130.67,535.66 130.80,536.24 130.84,536.44 130.88,536.23 130.92,538.33 130.96,538.51 131.00,538.96 131.05,539.42 131.09,540.25 131.13,540.54 131.17,540.86 131.21,541.58 131.25,542.23 131.26,542.78 131.27,543.08 131.27,544.44 131.28,544.12 131.29,545.55 131.30,545.35 131.31,546.52 131.31,547.53 131.32,547.55 131.33,547.69 131.34,548.59 131.35,549.18 131.36,548.89 131.36,549.95 131.37,550.85 131.38,551.11 131.39,551.91 131.40,552.76 131.40,553.32 131.41,553.94 131.42,554.35 131.43,554.50 131.44,555.18 131.44,555.61 131.45,556.15 131.46,556.76 131.47,556.61 131.48,557.79 131.48,558.48 131.49,558.61 131.50,559.58 131.51,560.38 131.52,560.62 131.53,562.18 131.53,560.63 131.54,562.26 131.55,562.08 131.56,563.90 131.57,565.20 131.57,563.43 131.58,565.17 131.59,565.90 131.60,566.08 131.61,567.01 131.61,566.31 131.62,568.25 131.63,568.59 131.64,568.98 131.65,569.26 131.65,570.36 131.66,570.41 131.67,571.28 131.68,571.50 131.69,571.27 131.69,572.82 131.70,573.47 131.71,574.27 131.72,574.09 131.73,575.02 131.74,575.87 131.74,576.21 131.75,577.25 131.76,578.14 131.77,577.39 131.78,577.48 131.78,579.28 131.79,580.14 131.80,580.42 131.81,580.92 131.82,580.83 131.83,581.35 131.84,582.62 131.86,582.37 131.87,582.52 131.88,583.44 131.89,585.57 131.90,585.87 131.91,585.25 131.92,585.78 131.93,586.77 131.94,586.89 131.96,588.37 131.97,588.30 131.98,588.40 131.99,590.03 132.00,589.74 132.01,590.66 132.02,591.11 132.03,591.53 132.04,592.37 132.06,592.47 132.07,592.50 132.08,592.90 132.09,593.87 132.10,594.66 132.11,595.55 132.12,596.14 132.13,596.92 132.14,597.28 132.16,597.42 132.17,598.01 132.18,597.94 132.19,599.37 132.20,600.22 132.21,600.79 132.22,601.06 132.23,601.59 132.24,602.64 132.26,602.78 132.27,603.67 132.28,604.15 132.29,604.54 132.30,605.59 132.31,605.30 132.32,605.95 132.33,606.30 132.34,606.86 132.36,608.48 132.37,609.13 132.38,608.90 132.39,609.70 132.40,610.53 132.41,610.92 132.42,611.65 132.43,611.10 132.44,611.93 132.46,612.98 132.47,613.98 132.48,613.94 132.49,614.06 132.50,614.84 132.51,614.15 132.52,613.50 132.53,614.01 132.54,612.50 132.55,612.23 132.56,612.64 132.56,611.64 132.57,610.71 132.58,609.72 132.59,609.63 132.60,609.62 132.61,608.61 132.62,608.35 132.63,607.27 132.64,606.90 132.65,606.02 132.66,605.75 132.67,605.59 132.68,603.80 132.69,603.86 132.69,603.44 132.70,602.52 132.71,602.08 132.72,602.02 132.73,602.01 132.74,600.84 132.75,600.15 132.76,598.75 132.77,599.76 132.78,598.37 132.79,597.76 132.80,596.72 132.81,596.64 132.81,595.62 132.82,595.59 132.83,595.21 132.84,594.46 132.85,594.01 132.86,592.95 132.87,593.42 132.88,591.93 132.89,590.85 132.90,591.03 132.91,590.21 132.92,589.55 132.93,589.28 132.94,589.02 132.94,587.80 132.95,587.72 132.96,587.86 132.97,586.97 132.98,586.04 132.99,585.61 133.00,584.95 133.01,584.43 133.03,584.23 133.04,583.31 133.06,581.72 133.07,582.24 133.09,581.30 133.10,581.44 133.12,580.33 133.13,580.12 133.15,580.48 133.16,578.48 133.18,577.89 133.19,577.21 133.21,576.22 133.22,575.90 133.24,576.36 133.25,575.36 133.27,574.26 133.28,573.88 133.30,574.28 133.31,573.10 133.33,572.73 133.34,572.50 133.36,572.41 133.38,572.12 133.39,571.16 133.41,570.21 133.42,569.68 133.44,569.86 133.45,569.14 133.47,567.81 133.48,567.61 133.50,566.98 133.51,566.32 133.53,565.52 133.54,564.60 133.56,564.41 133.57,563.41 133.59,564.10 133.60,563.24 133.62,561.91 133.63,562.53 133.65,561.75 133.66,559.94 133.68,561.08 133.69,560.06 133.71,560.08 133.72,558.05 133.74,558.29 133.75,557.69 133.76,557.03 133.78,556.46 133.79,556.30 133.80,554.60 133.81,554.16 133.83,553.53 133.84,553.35 133.85,552.77 133.87,552.65 133.88,552.05 133.89,551.39 133.90,550.51 133.92,550.06 133.93,550.13 133.94,549.49 133.96,548.63 133.97,547.88 133.98,548.17 133.99,546.65 134.01,546.65 134.02,546.32 134.03,545.12 134.05,545.06 134.06,543.63 134.07,544.03 134.08,543.10 134.10,541.74 134.11,542.20 134.12,540.94 134.14,541.36 134.15,539.92 134.16,539.60 134.17,539.24 134.19,538.41 134.20,538.12 134.21,537.19 134.23,537.17 134.24,536.31 134.25,535.83 134.27,533.94 134.28,535.13 134.29,534.06 134.30,532.68 134.32,532.96 134.33,532.56 134.34,532.26 134.36,530.73 134.37,531.35 134.38,530.02 134.40,530.60 134.41,528.89 134.42,528.70 134.43,527.66 134.45,526.76 134.46,527.19 134.47,526.54 134.49,526.26 134.50,525.39 134.67,524.16 134.83,523.09 135.00,522.96 135.17,522.36 135.33,521.72 135.50,521.76 136.00,521.15 136.50,520.38 137.00,520.08 137.50,520.18 138.00,520.60 138.50,521.09 139.00,521.43 139.56,521.07 140.12,521.07 140.69,522.77 141.25,522.55 141.41,523.56 141.56,522.89 141.72,524.04 141.88,524.76 142.03,524.66 142.19,525.64 142.34,526.76 142.50,527.49 142.66,528.25 142.81,527.67 142.97,527.96 143.12,529.36 143.28,530.08 143.44,530.27 143.59,530.13 143.75,531.60 144.33,531.86 144.92,532.00 145.50,531.78 146.00,532.57 146.50,533.23 147.00,533.06 147.50,532.92 148.00,534.34 148.50,534.84 149.00,535.07 149.50,535.90 150.08,535.49 150.67,535.96 151.25,536.11 151.75,536.26 152.25,536.47 152.75,535.39 153.25,536.17 153.75,535.69 154.19,535.86 154.62,536.26 155.06,537.30 155.50,536.92 156.25,537.20 157.00,537.02 157.01,538.28 157.03,539.24 157.04,539.44 157.05,539.96 157.07,540.25 157.08,540.99 157.10,540.84 157.11,542.52 157.12,542.43 157.14,542.68 157.15,543.41 157.16,543.95 157.18,545.27 157.19,545.93 157.20,545.41 157.22,547.01 157.23,547.56 157.25,547.47 157.26,547.63 157.27,548.53 157.29,549.15 157.30,550.15 157.31,550.39 157.31,550.20 157.32,551.77 157.33,551.53 157.34,553.19 157.34,552.79 157.35,553.58 157.36,554.06 157.37,554.76 157.37,556.14 157.38,556.49 157.39,556.94 157.40,557.37 157.40,557.08 157.41,558.10 157.42,558.64 157.43,559.00 157.43,560.23 157.44,560.22 157.45,560.79 157.46,561.20 157.46,561.30 157.47,563.05 157.48,563.93 157.49,563.97 157.49,564.00 157.50,563.78 157.58,564.52 157.66,564.44 157.73,563.47 157.81,563.19 157.89,562.89 157.97,562.17 158.04,560.91 158.12,561.03 158.20,560.35 158.22,559.86 158.24,560.92 158.26,561.01 158.28,562.16 158.29,563.02 158.31,562.83 158.33,562.94 158.35,565.00 158.37,565.14 158.39,566.18 158.41,565.47 158.43,567.10 158.45,568.11 158.47,568.63 158.48,568.18 158.50,568.95 158.52,569.31 158.54,570.38 158.56,570.95 158.58,571.07 158.60,570.97 158.62,572.47 158.64,572.48 158.66,573.52 158.67,573.91 158.69,575.08 158.71,575.41 158.73,575.25 158.75,576.16 158.78,576.23 158.80,574.64 158.83,574.52 158.85,574.30 158.88,573.77 158.91,572.87 158.93,571.49 158.96,570.95 158.98,571.07 159.01,570.57 159.04,570.99 159.06,568.89 159.09,569.23 159.11,568.51 159.14,566.85 159.17,566.67 159.19,566.55 159.22,565.70 159.24,565.29 159.27,565.01 159.30,563.88 159.32,563.89 159.35,562.83 159.37,562.31 159.40,562.24 159.45,561.16 159.50,560.96 159.55,560.97 159.60,559.68 159.65,559.02 159.70,558.83 159.75,557.75 159.80,557.82 159.85,556.17 159.90,556.45 159.95,555.35 160.00,554.64 160.02,556.35 160.04,555.73 160.07,557.46 160.09,557.52 160.11,558.43 160.13,557.89 160.16,559.43 160.18,560.10 160.20,559.95 160.22,560.50 160.24,562.22 160.27,561.75 160.29,562.03 160.31,562.49 160.33,563.53 160.36,564.04 160.38,564.52 160.40,565.77 160.42,565.41 160.44,566.32 160.47,567.32 160.49,566.77 160.51,568.25 160.53,569.16 160.56,568.28 160.58,568.95 160.60,569.53 160.61,569.72 160.62,571.31 160.64,570.83 160.65,572.45 160.66,573.43 160.67,572.61 160.68,573.75 160.70,573.58 160.71,575.35 160.72,575.22 160.73,575.99 160.74,576.69 160.76,577.47 160.77,577.62 160.78,578.34 160.79,578.64 160.80,579.50 160.82,579.47 160.83,580.58 160.84,580.24 160.85,581.45 160.86,583.08 160.88,582.81 160.89,582.77 160.90,584.00 160.91,584.01 160.93,584.26 160.94,585.22 160.95,586.44 160.96,586.84 160.97,587.18 160.99,587.36 161.00,587.85 161.01,589.50 161.02,589.55 161.03,589.57 161.05,589.61 161.06,590.49 161.07,592.78 161.08,591.71 161.09,592.74 161.11,593.43 161.12,593.82 161.13,594.32 161.14,594.38 161.15,595.08 161.17,596.87 161.18,596.33 161.19,597.60 161.20,597.02 161.21,598.21 161.23,599.01 161.24,599.91 161.25,599.49 161.26,599.71 161.27,599.06 161.27,598.00 161.28,597.99 161.29,596.82 161.30,596.31 161.30,596.10 161.31,594.33 161.32,594.95 161.33,593.99 161.34,593.23 161.34,593.14 161.35,593.12 161.36,592.04 161.37,592.24 161.37,590.59 161.38,589.97 161.39,590.70 161.40,589.62 161.41,589.31 161.41,587.96 161.42,588.14 161.43,587.34 161.44,586.96 161.44,586.12 161.45,586.10 161.46,584.71 161.47,584.01 161.48,583.22 161.48,583.86 161.49,582.45 161.50,581.75 161.51,581.24 161.51,580.91 161.52,579.98 161.53,579.87 161.54,579.16 161.55,578.64 161.55,577.90 161.56,577.79 161.57,577.01 161.58,576.72 161.58,576.22 161.59,575.71 161.60,574.01 161.61,574.19 161.63,573.51 161.64,573.65 161.65,572.03 161.66,571.86 161.68,571.48 161.69,570.90 161.70,570.93 161.72,569.72 161.73,569.79 161.74,568.13 161.75,567.41 161.77,568.21 161.78,567.29 161.79,566.75 161.81,566.02 161.82,565.62 161.83,564.29 161.85,564.70 161.86,563.47 161.87,563.59 161.88,562.62 161.90,561.13 161.91,560.87 161.92,561.39 161.94,560.26 161.95,559.58 161.96,559.30 161.97,558.44 161.99,557.82 162.00,557.55 162.05,558.13 162.11,559.32 162.16,559.22 162.21,560.61 162.27,561.14 162.32,561.67 162.37,561.94 162.43,562.09 162.48,562.66 162.53,563.10 162.59,563.40 162.64,564.27 162.69,564.58 162.75,566.17 162.80,566.24 162.86,566.36 162.92,566.26 162.98,567.66 163.04,568.06 163.10,568.32 163.16,568.86 163.22,568.92 163.28,570.76 163.33,571.03 163.39,572.79 163.45,572.17 163.51,572.68 163.57,573.96 163.63,573.94 163.69,574.51 163.75,574.83 163.78,574.16 163.81,574.53 163.84,573.74 163.87,573.49 163.90,571.99 163.94,571.58 163.97,570.60 164.00,570.86 164.03,569.23 164.06,569.54 164.09,569.21 164.12,568.78 164.15,567.15 164.18,567.49 164.21,566.11 164.25,565.52 164.28,564.69 164.31,565.23 164.34,564.88 164.37,563.30 164.40,562.66 164.44,562.28 164.49,562.99 164.53,561.74 164.57,560.47 164.61,559.34 164.66,559.27 164.70,559.53 164.74,559.27 164.79,557.74 164.83,556.97 164.87,556.48 164.91,555.29 164.96,555.98 165.00,554.51 165.01,556.03 165.03,555.34 165.04,556.10 165.06,557.35 165.07,557.43 165.08,558.68 165.10,558.89 165.11,558.92 165.12,560.28 165.14,560.93 165.15,560.25 165.17,562.49 165.18,562.45 165.19,563.12 165.21,562.50 165.22,563.57 165.24,564.29 165.25,565.48 165.26,564.90 165.28,565.71 165.29,565.75 165.31,567.11 165.32,567.93 165.33,567.57 165.35,568.62 165.36,569.67 165.38,570.71 165.39,570.85 165.40,570.97 165.42,571.14 165.43,571.80 165.44,572.48 165.46,573.40 165.47,573.87 165.49,575.19 165.50,575.13 165.50,575.07 165.50,576.79 165.51,577.08 165.51,577.25 165.51,577.43 165.51,577.46 165.52,578.39 165.52,579.81 165.52,579.59 165.53,579.91 165.53,581.14 165.53,581.71 165.53,582.42 165.53,582.99 165.54,583.88 165.54,583.42 165.54,584.79 165.54,584.46 165.55,585.76 165.55,586.08 165.55,586.66 165.56,587.54 165.56,587.64 165.56,588.70 165.56,589.14 165.56,589.36 165.57,589.59 165.57,590.06 165.57,590.71 165.57,591.41 165.58,592.04 165.58,593.94 165.58,593.44 165.59,594.05 165.59,593.86 165.59,594.48 165.59,595.21 165.59,595.99 165.60,595.98 165.60,597.73 165.60,597.30 165.60,598.59 165.61,597.60 165.61,599.20 165.61,599.88 165.62,600.39 165.62,601.12 165.62,601.53 165.62,602.02 165.62,601.65 165.63,602.73 165.63,602.55 165.63,604.43 165.63,604.84 165.64,605.16 165.64,605.43 165.64,606.09 165.65,607.73 165.65,608.23 165.65,607.97 165.65,609.13 165.66,608.39 165.66,608.78 165.66,609.98 165.66,610.36 165.66,611.05 165.67,611.93 165.67,613.76 165.67,612.65 165.68,613.52 165.68,614.17 165.68,614.58 165.68,615.57 165.69,616.50 165.69,615.69 165.69,616.87 165.69,617.23 165.69,618.06 165.70,617.76 165.70,618.21 165.70,618.51 165.71,620.34 165.71,620.74 165.71,621.23 165.71,620.69 165.72,622.13 165.72,622.51 165.72,622.76 165.72,623.54 165.72,624.81 165.73,625.29 165.73,625.59 165.73,626.38 165.74,626.43 165.74,627.28 165.74,627.82 165.74,628.60 165.75,628.87 165.75,629.39 165.75,629.94 165.75,630.26 165.75,632.11 165.76,631.88 165.76,632.39 165.76,633.78 165.76,633.93 165.77,633.15 165.77,634.71 165.77,635.33 165.78,636.35 165.78,636.64 165.78,636.95 165.78,636.62 165.78,637.31 165.79,638.37 165.79,639.03 165.79,638.89 165.79,639.73 165.80,640.27 165.80,641.03 165.80,641.70 165.81,641.97 165.81,642.09 165.81,643.76 165.81,644.47 165.81,644.25 165.82,645.31 165.82,645.60 165.82,646.25 165.82,646.72 165.83,646.71 165.83,647.86 165.83,648.60 165.84,648.30 165.84,650.13 165.84,650.74 165.84,651.17 165.84,651.80 165.85,651.78 165.85,651.85 165.85,652.28 165.85,652.73 165.86,653.70 165.86,654.19 165.86,655.05 165.87,654.39 165.87,656.89 165.87,657.42 165.87,656.94 165.88,657.80 165.88,658.26 165.88,658.72 165.88,659.06 165.88,659.64 165.89,659.88 165.89,660.88 165.89,661.34 165.90,662.04 165.90,662.07 165.90,663.02 165.90,663.57 165.91,664.37 165.91,664.17 165.91,665.39 165.91,666.19 165.91,666.57 165.92,666.68 165.92,667.18 165.92,667.84 165.93,668.83 165.93,669.75 165.93,669.53 165.93,669.86 165.94,670.87 165.94,671.34 165.94,671.39 165.94,672.02 165.94,672.85 165.95,673.75 165.95,673.46 165.95,674.09 165.96,675.32 165.96,675.10 165.96,676.25 165.96,676.91 165.97,677.25 165.97,677.39 165.97,678.37 165.97,678.80 165.97,679.65 165.98,679.67 165.98,681.09 165.98,680.40 165.99,681.62 165.99,682.25 165.99,683.23 165.99,683.08 166.00,684.15 166.00,684.19 166.00,685.33 166.00,685.23 166.01,683.71 166.01,683.54 166.01,682.37 166.01,682.68 166.02,682.23 166.02,681.15 166.02,680.07 166.03,680.21 166.03,679.99 166.03,679.41 166.03,678.74 166.04,677.00 166.04,676.96 166.04,677.35 166.05,675.61 166.05,676.12 166.05,675.91 166.06,674.85 166.06,674.46 166.06,673.25 166.06,672.30 166.07,672.25 166.07,671.65 166.07,671.17 166.08,670.95 166.08,670.02 166.08,669.62 166.08,669.17 166.09,668.43 166.09,668.71 166.09,667.52 166.10,666.81 166.10,666.13 166.10,665.39 166.10,665.72 166.11,664.63 166.11,663.53 166.11,663.21 166.12,662.85 166.12,662.15 166.12,662.29 166.12,660.73 166.13,660.92 166.13,660.21 166.13,659.06 166.14,659.06 166.14,658.45 166.14,658.16 166.15,657.18 166.15,656.97 166.15,655.53 166.15,655.24 166.16,655.53 166.16,655.09 166.16,654.06 166.17,653.25 166.17,653.45 166.17,651.47 166.17,651.50 166.18,651.61 166.18,651.05 166.18,649.74 166.19,648.80 166.19,649.75 166.19,648.62 166.19,647.59 166.20,647.47 166.20,647.30 166.20,645.17 166.21,646.28 166.21,645.57 166.21,643.74 166.22,644.47 166.22,642.77 166.22,643.54 166.22,642.65 166.23,642.93 166.23,641.09 166.23,640.82 166.24,640.73 166.24,639.42 166.24,638.84 166.24,638.44 166.25,638.02 166.25,637.01 166.25,637.17 166.26,636.64 166.26,635.88 166.26,636.06 166.26,634.59 166.27,634.77 166.27,633.39 166.27,633.42 166.28,631.66 166.28,632.07 166.28,631.35 166.28,630.65 166.29,630.05 166.29,629.61 166.29,628.89 166.30,627.68 166.30,627.84 166.30,627.31 166.31,626.77 166.31,625.98 166.31,625.84 166.31,625.70 166.32,624.68 166.32,624.02 166.32,624.30 166.33,623.58 166.33,623.00 166.33,622.55 166.33,621.34 166.34,620.87 166.34,620.88 166.34,619.58 166.35,619.22 166.35,618.89 166.35,618.34 166.35,617.49 166.36,617.51 166.36,616.43 166.36,616.29 166.37,615.89 166.37,615.15 166.37,614.63 166.38,613.23 166.38,612.61 166.38,612.37 166.38,612.31 166.39,612.22 166.39,610.44 166.39,610.57 166.40,609.50 166.40,609.00 166.40,608.65 166.40,608.54 166.41,607.77 166.41,607.65 166.41,606.13 166.42,606.42 166.42,605.88 166.42,604.94 166.42,604.58 166.43,603.55 166.43,602.77 166.43,602.52 166.44,601.86 166.44,602.90 166.44,600.83 166.44,601.24 166.45,600.03 166.45,599.53 166.45,599.17 166.46,597.93 166.46,598.14 166.46,597.35 166.47,595.95 166.47,596.35 166.47,595.77 166.47,595.17 166.48,595.13 166.48,593.68 166.48,593.54 166.49,593.10 166.49,591.80 166.49,592.20 166.49,590.45 166.50,589.97 166.50,590.24 166.51,588.95 166.52,588.84 166.53,587.59 166.54,587.81 166.56,586.71 166.57,586.82 166.58,585.42 166.59,585.76 166.60,584.88 166.61,584.47 166.62,583.86 166.63,583.39 166.64,582.18 166.66,581.07 166.67,581.68 166.68,580.69 166.69,580.35 166.70,580.19 166.71,578.55 166.72,578.55 166.73,578.06 166.74,577.30 166.76,577.37 166.77,576.60 166.78,575.74 166.79,575.11 166.80,575.36 166.81,574.15 166.82,574.15 166.83,573.54 166.84,571.93 166.86,571.73 166.87,571.67 166.88,571.27 166.89,570.91 166.90,570.36 166.91,569.91 166.92,568.72 166.93,568.24 166.94,568.13 166.96,567.03 166.97,567.14 166.98,565.40 166.99,565.85 167.00,564.92 167.03,563.56 167.06,564.33 167.08,563.47 167.11,562.79 167.14,561.74 167.17,561.46 167.19,561.79 167.22,560.18 167.25,558.44 167.28,559.06 167.31,558.35 167.33,558.27 167.36,557.60 167.39,556.81 167.42,556.29 167.44,556.58 167.47,554.91 167.50,555.88 167.54,554.18 167.58,553.35 167.62,553.62 167.65,552.95 167.69,551.65 167.73,551.88 167.77,550.13 167.81,549.97 167.85,550.31 167.88,549.12 167.92,548.07 167.96,548.31 168.00,547.91 168.05,546.92 168.11,545.55 168.16,545.64 168.21,545.42 168.27,545.01 168.32,544.93 168.37,543.42 168.43,542.75 168.48,542.38 168.53,542.38 168.59,540.84 168.64,541.29 168.69,538.90 168.75,539.93 168.80,538.70 168.86,538.62 168.93,538.13 168.99,536.70 169.05,536.60 169.12,536.15 169.18,535.72 169.25,534.45 169.31,533.83 169.37,532.82 169.44,534.23 169.50,532.41 169.60,532.96 169.70,532.95 169.80,534.61 169.90,534.51 170.00,535.96 170.10,536.26 170.20,536.45 170.30,537.33 170.49,537.10 170.68,538.05 170.87,538.54 171.06,538.83 171.25,540.01 171.32,539.36 171.39,539.50 171.45,536.78 171.52,537.41 171.59,536.73 171.66,536.36 171.72,536.19 171.79,535.61 171.86,534.87 171.93,534.07 172.00,533.94 172.06,533.30 172.13,531.74 172.20,531.88 172.28,530.81 172.36,530.32 172.44,530.34 172.52,529.73 172.60,529.18 172.68,528.16 172.76,527.88 172.84,526.99 172.92,527.00 173.00,526.56 173.01,527.59 173.02,527.93 173.02,527.55 173.03,528.26 173.04,528.59 173.05,529.71 173.06,531.01 173.07,531.00 173.07,530.24 173.08,531.22 173.09,531.75 173.10,533.12 173.11,533.44 173.11,534.13 173.12,535.35 173.13,534.73 173.14,535.27 173.15,537.09 173.16,536.92 173.16,536.97 173.17,536.96 173.18,537.74 173.19,537.88 173.20,539.56 173.20,540.10 173.21,541.08 173.22,541.13 173.23,541.43 173.24,541.96 173.25,543.70 173.25,542.61 173.26,544.03 173.27,544.52 173.28,545.34 173.29,545.43 173.30,546.39 173.30,547.09 173.31,547.21 173.32,547.62 173.33,548.30 173.34,548.50 173.34,549.39 173.35,549.91 173.36,550.69 173.37,551.75 173.38,552.29 173.39,552.05 173.39,553.08 173.40,553.49 173.41,554.26 173.42,554.48 173.43,555.14 173.43,555.36 173.44,555.77 173.45,557.07 173.46,557.82 173.47,558.08 173.48,558.54 173.48,559.01 173.49,559.24 173.50,559.20 173.51,560.85 173.51,561.20 173.52,561.41 173.52,561.78 173.53,563.35 173.53,562.51 173.54,564.67 173.54,564.72 173.55,566.06 173.55,565.22 173.56,566.09 173.57,566.42 173.57,567.28 173.58,567.67 173.58,567.98 173.59,569.35 173.59,569.07 173.60,569.75 173.60,570.78 173.61,570.85 173.61,571.45 173.62,572.36 173.62,572.58 173.63,572.74 173.64,573.81 173.64,574.31 173.65,575.73 173.65,575.03 173.66,576.51 173.66,576.28 173.67,577.02 173.67,577.59 173.68,578.42 173.68,579.24 173.69,580.19 173.70,579.67 173.70,581.11 173.71,581.51 173.71,581.99 173.72,581.83 173.72,583.13 173.73,583.23 173.73,584.00 173.74,584.27 173.74,585.24 173.75,586.00 173.76,586.56 173.76,586.52 173.77,587.61 173.77,588.37 173.78,587.85 173.78,589.49 173.79,588.78 173.79,590.18 173.80,590.76 173.80,591.71 173.81,591.72 173.82,591.94 173.82,592.35 173.83,592.70 173.83,594.16 173.84,594.26 173.84,594.60 173.85,595.72 173.85,595.69 173.86,596.39 173.86,596.94 173.87,598.44 173.88,598.91 173.88,598.73 173.89,598.65 173.89,600.04 173.90,600.50 173.90,601.18 173.91,601.83 173.91,601.99 173.92,603.10 173.92,603.62 173.93,603.89 173.93,604.16 173.94,604.69 173.95,605.77 173.95,605.52 173.96,606.49 173.96,606.78 173.97,607.05 173.97,608.50 173.98,608.77 173.98,609.35 173.99,610.28 173.99,609.77 174.00,610.97 174.02,610.58 174.03,610.27 174.05,608.85 174.06,609.11 174.08,608.34 174.09,608.29 174.11,607.64 174.13,606.83 174.14,606.99 174.16,605.47 174.17,604.73 174.19,604.22 174.21,603.39 174.22,603.25 174.24,601.87 174.25,602.12 174.27,601.80 174.28,601.50 174.30,600.34 174.32,600.57 174.33,599.10 174.35,598.78 174.36,597.44 174.38,597.39 174.39,596.83 174.41,597.29 174.43,596.31 174.44,595.04 174.46,595.21 174.47,594.63 174.49,593.77 174.51,593.33 174.52,592.63 174.54,591.97 174.55,590.88 174.57,591.07 174.58,591.12 174.60,590.63 174.63,589.31 174.66,588.54 174.69,588.21 174.72,588.14 174.75,587.33 174.77,586.36 174.80,586.21 174.83,585.39 174.86,585.15 174.89,584.18 174.92,583.14 174.95,583.25 174.98,583.00 175.01,581.61 175.04,581.49 175.06,581.35 175.09,580.24 175.12,579.55 175.15,580.16 175.18,579.07 175.21,578.60 175.24,577.17 175.27,577.73 175.30,575.73 175.33,575.66 175.35,575.65 175.38,575.34 175.41,573.79 175.44,573.34 175.47,573.15 175.50,571.66 175.53,572.21 175.56,571.61 175.60,570.60 175.63,570.46 175.66,570.00 175.69,569.23 175.72,568.75 175.75,568.62 175.79,567.18 175.82,566.89 175.85,566.02 175.88,566.13 175.91,564.94 175.95,564.75 175.98,564.04 176.01,563.44 176.04,563.59 176.07,562.24 176.10,562.32 176.14,561.50 176.17,561.14 176.20,559.93 176.24,559.85 176.29,559.22 176.33,558.07 176.38,557.90 176.42,557.17 176.47,556.65 176.51,556.68 176.56,555.24 176.60,554.27 176.64,553.69 176.69,553.69 176.73,553.05 176.78,552.78 176.82,552.47 176.87,552.43 176.91,551.25 176.96,550.76 177.00,549.68 177.03,550.80 177.05,551.69 177.07,552.23 177.10,551.35 177.12,553.14 177.15,553.99 177.18,554.21 177.20,553.75 177.22,554.82 177.25,555.75 177.28,556.23 177.30,556.25 177.32,556.76 177.35,558.12 177.38,557.67 177.40,559.42 177.43,559.36 177.45,560.03 177.47,559.87 177.50,560.74 177.53,561.86 177.56,561.49 177.59,563.58 177.62,562.64 177.66,563.28 177.69,564.39 177.72,565.15 177.75,565.82 177.78,565.90 177.81,566.54 177.84,567.09 177.88,567.50 177.91,567.20 177.94,569.29 177.97,569.55 178.00,570.07 178.03,569.16 178.07,568.98 178.10,568.30 178.14,567.71 178.17,567.65 178.21,565.86 178.24,566.15 178.28,565.02 178.31,564.78 178.35,565.00 178.38,563.31 178.42,563.17 178.45,562.40 178.49,562.50 178.52,561.10 178.56,560.23 178.59,560.61 178.63,559.67 178.66,559.12 178.70,559.16 178.73,557.75 178.77,557.40 178.80,557.06 178.84,556.62 178.88,555.66 178.92,555.77 178.96,555.73 179.01,554.03 179.05,554.46 179.09,552.18 179.13,553.14 179.17,551.82 179.21,551.47 179.25,550.71 179.29,550.02 179.34,549.18 179.38,549.01 179.42,549.18 179.46,548.55 179.50,547.35 179.65,547.86 179.80,548.36 179.95,548.73 180.10,550.61 180.25,550.70 180.40,551.05 180.57,551.34 180.74,551.66 180.91,553.22 181.08,553.54 181.25,553.34 181.67,553.59 182.08,552.10 182.50,552.28 183.12,551.83 183.75,552.32 184.00,553.21 184.25,553.69 184.50,554.44 184.75,554.14 185.00,555.68 185.25,556.08 185.50,556.00 185.75,556.70 186.00,556.66 186.25,557.43 186.88,557.18 187.50,558.04 187.81,558.59 188.12,559.58 188.44,559.91 188.75,560.35 189.10,559.34 189.45,558.90 189.80,558.35 190.15,558.10 190.50,556.67 191.00,557.52 191.50,556.20 192.00,556.34 192.50,556.26 193.00,555.72 193.50,556.34 194.00,555.27 194.50,555.68 195.08,555.51 195.67,554.79 196.25,555.17 196.30,554.99 196.36,553.71 196.41,553.32 196.46,552.47 196.52,552.17 196.57,551.42 196.62,551.04 196.68,550.86 196.73,550.46 196.79,549.34 196.84,548.80 196.89,548.51 196.95,547.45 197.00,546.54 197.04,546.90 197.08,545.43 197.12,545.65 197.17,544.25 197.21,544.87 197.25,543.05 197.29,543.28 197.33,542.98 197.38,541.33 197.42,541.81 197.46,540.23 197.50,539.24 197.57,539.71 197.64,539.10 197.71,538.11 197.78,536.51 197.85,536.98 197.92,536.27 197.99,535.64 198.06,535.07 198.13,533.83 198.20,533.76 198.28,534.21 198.36,533.53 198.44,532.13 198.51,531.41 198.59,531.31 198.67,531.03 198.75,530.31 199.17,528.99 199.58,529.07 200.00,528.58 200.62,529.45 201.25,529.44 201.41,529.58 201.56,530.51 201.72,530.12 201.88,531.76 202.03,531.16 202.19,532.17 202.34,533.00 202.50,532.47 202.66,533.16 202.81,533.11 202.97,534.78 203.12,535.22 203.28,535.62 203.44,536.66 203.59,535.72 203.75,537.49 204.00,537.05 204.25,536.35 204.50,536.46 204.75,536.51 205.00,534.74 205.62,534.46 206.25,534.65 206.43,534.48 206.61,534.19 206.79,532.79 206.96,533.29 207.14,531.55 207.32,532.05 207.50,531.25 207.81,530.70 208.12,531.12 208.44,529.16 208.75,528.65 208.96,529.59 209.18,530.37 209.39,529.67 209.60,531.16 209.78,531.12 209.96,532.46 210.14,533.44 210.32,533.23 210.50,533.69 210.67,533.33 210.83,530.99 211.00,532.61 211.17,531.96 211.33,531.21 211.50,530.36 211.67,529.63 211.83,529.42 212.00,529.70 212.25,528.37 212.50,528.63 212.75,525.80 213.00,526.45 213.25,526.30 213.50,525.56 213.75,524.04 213.89,524.06 214.03,524.61 214.17,522.59 214.31,522.21 214.44,521.59 214.58,521.35 214.72,521.48 214.86,520.90 215.00,518.83 215.18,520.31 215.36,518.59 215.54,518.05 215.71,518.82 215.89,517.27 216.07,516.07 216.25,515.88 216.60,515.38 216.95,514.77 217.30,514.71 217.65,514.96 218.00,514.20 218.38,512.70 218.75,514.61 219.12,511.93 219.50,512.07 220.12,512.27 220.75,512.94 220.77,512.89 220.79,513.92 220.81,515.44 220.83,514.86 220.85,514.76 220.87,516.15 220.88,516.08 220.90,516.90 220.92,517.80 220.94,518.46 220.96,518.68 220.98,519.91 221.00,519.89 221.02,519.83 221.03,521.67 221.05,521.54 221.07,523.03 221.08,522.54 221.10,523.83 221.12,524.26 221.13,523.11 221.15,524.39 221.17,525.19 221.18,527.23 221.20,525.91 221.22,528.11 221.23,528.80 221.25,529.04 221.33,528.54 221.41,527.28 221.49,526.96 221.57,526.50 221.66,526.02 221.74,525.59 221.82,524.47 221.90,523.60 222.02,523.13 222.14,523.14 222.26,521.39 222.38,521.08 222.50,521.01 222.90,520.48 223.30,520.19 223.70,518.37 224.10,519.25 224.50,518.86 224.94,519.07 225.38,517.11 225.81,517.70 226.25,517.77 226.81,517.66 227.38,517.94 227.94,517.73 228.50,516.40 229.05,517.22 229.60,516.51 230.15,516.09 230.70,517.28 231.25,515.89 231.83,515.34 232.42,515.18 233.00,514.51 233.67,515.58 234.33,515.22 235.00,515.81 235.12,515.84 235.24,515.85 235.36,517.40 235.48,517.02 235.60,517.73 235.82,518.57 236.03,519.36 236.25,520.69 236.56,519.15 236.88,519.20 237.19,518.48 237.50,517.27 237.92,516.78 238.33,516.71 238.75,516.48 239.30,516.29 239.85,516.23 240.40,515.83 240.95,515.39 241.50,515.75 242.08,514.84 242.67,514.56 243.25,515.06 243.83,514.34 244.42,514.79 245.00,514.57 245.62,514.93 246.25,515.47 246.88,515.29 247.50,515.76 248.00,515.31 248.50,516.68 249.00,516.39 249.50,517.43 250.00,515.86 250.07,517.62 250.13,518.81 250.20,517.84 250.27,519.62 250.33,520.47 250.40,521.06 250.47,520.68 250.54,522.23 250.61,522.74 250.68,522.64 250.75,524.18 250.84,523.13 250.94,522.57 251.03,521.71 251.12,521.69 251.22,520.84 251.31,520.85 251.41,519.86 251.50,518.64 251.64,518.30 251.79,518.39 251.93,517.07 252.07,516.94 252.21,516.45 252.36,515.47 252.50,513.65 253.12,514.95 253.75,514.87 254.38,514.70 255.00,513.88 255.62,515.31 256.25,514.01 256.88,513.43 257.50,513.16 258.12,514.11 258.75,512.98 259.38,513.12 260.00,515.64 260.54,514.86 261.07,514.44 261.61,514.48 262.14,513.63 262.68,511.54 263.21,513.70 263.75,513.52 264.19,513.28 264.62,511.64 265.06,514.65 265.50,515.12 266.17,513.76 266.83,514.44 267.50,515.14 268.12,514.24 268.75,515.03 269.38,514.00 270.00,514.32 270.50,514.17 271.00,513.23 271.50,513.98 272.00,517.76 272.50,515.73 273.12,516.77 273.75,516.81 274.38,517.47 275.00,516.71 275.62,515.57 276.25,515.89 276.88,514.11 277.50,515.34 278.12,516.12 278.75,513.47 279.38,515.29 280.00,515.68 280.50,515.79 281.00,513.64 281.50,513.56 282.00,512.25 282.50,512.66 283.12,513.82 283.75,514.96 284.38,512.18 285.00,514.14 285.62,513.23 286.25,512.34 286.88,514.44 287.50,510.42 288.00,512.74 288.50,513.28 289.00,515.16 289.50,515.18 290.00,515.87 290.62,513.86 291.25,514.31 291.88,514.38 292.50,513.42 293.12,513.30 293.75,512.85 294.38,512.66 295.00,511.98 295.62,514.36 296.25,512.13 296.88,510.53 297.50,512.22 298.12,512.10 298.75,512.40 299.38,513.87 300.00,512.41 300.62,512.03 301.25,511.38 301.88,511.73 302.50,511.14 303.12,511.61 303.75,513.96 304.38,511.64 305.00,510.54 305.67,512.60 306.33,511.46 307.00,511.17 307.58,510.92 308.17,510.84 308.75,510.56 309.17,510.67 309.58,509.83 310.00,509.62 310.62,507.58 311.25,507.50 311.56,507.40 311.88,509.29 312.19,509.69 312.50,509.11 312.92,510.57 313.33,512.84 313.75,512.27 314.33,510.74 314.92,512.01 315.50,513.03 315.54,513.03 315.58,513.94 315.62,515.15 315.66,515.01 315.71,514.39 315.75,516.44 315.79,516.33 315.83,517.06 315.87,517.06 315.91,516.94 315.95,517.62 315.99,518.91 316.04,518.88 316.08,518.08 316.12,521.83 316.16,520.48 316.20,521.40 316.23,523.01 316.27,521.14 316.30,524.81 316.34,523.62 316.37,525.37 316.41,524.99 316.44,526.21 316.48,526.61 316.51,527.09 316.55,526.14 316.58,527.00 316.62,528.75 316.65,530.52 316.69,529.46 316.72,530.92 316.76,531.18 316.79,532.01 316.83,533.00 316.86,531.50 316.90,533.53 316.93,533.72 316.97,534.18 317.00,534.29 317.06,534.92 317.11,535.29 317.17,535.81 317.23,539.36 317.29,539.26 317.34,538.44 317.40,539.61 317.46,538.76 317.51,537.84 317.57,539.21 317.63,541.40 317.69,543.05 317.74,542.39 317.80,542.17 317.88,543.38 317.96,543.34 318.04,543.87 318.12,545.19 318.20,545.66 318.27,545.99 318.35,546.52 318.43,547.08 318.51,548.40 318.59,549.72 318.67,549.28 318.75,551.42 319.00,549.55 319.25,551.32 319.50,550.98 319.75,552.18 320.00,552.92 320.25,553.78 320.50,554.72 320.90,554.10 321.30,554.11 321.70,555.23 322.10,555.99 322.50,555.81 323.00,557.13 323.50,557.94 324.00,556.29 324.50,557.73 324.55,557.59 324.59,555.18 324.64,555.97 324.69,555.15 324.74,553.84 324.78,555.02 324.83,553.77 324.88,552.78 324.93,552.81 324.97,552.38 325.02,551.91 325.07,551.24 325.12,550.57 325.16,549.02 325.21,548.94 325.26,548.74 325.31,546.35 325.35,548.90 325.40,546.76 325.44,545.77 325.49,544.72 325.53,545.46 325.58,544.76 325.62,543.80 325.67,543.34 325.71,542.48 325.76,542.00 325.80,541.85 325.85,540.93 325.89,541.21 325.94,540.12 325.98,539.73 326.03,539.34 326.07,539.32 326.12,538.33 326.16,537.53 326.21,536.71 326.25,535.74 326.29,536.62 326.34,537.85 326.38,538.14 326.42,538.34 326.47,538.32 326.51,538.78 326.55,540.54 326.60,541.57 326.64,541.74 326.68,541.21 326.73,542.53 326.77,543.39 326.81,543.25 326.86,544.64 326.90,544.87 326.95,545.05 326.99,545.37 327.04,547.24 327.08,547.53 327.13,547.32 327.18,547.82 327.22,549.60 327.27,549.99 327.32,550.00 327.36,551.78 327.41,551.16 327.45,551.25 327.50,553.19 327.57,552.94 327.65,553.84 327.73,554.21 327.80,554.12 327.88,554.56 327.95,555.75 328.03,557.33 328.10,556.36 328.19,558.47 328.29,558.35 328.38,558.12 328.47,559.60 328.56,560.39 328.66,560.07 328.75,559.90 328.96,560.93 329.17,559.46 329.38,559.90 329.58,557.87 329.79,558.45 330.00,557.49 330.42,556.48 330.83,556.68 331.25,556.36 331.67,556.31 332.08,556.34 332.50,557.63 333.12,556.39 333.75,557.84 333.97,557.25 334.19,557.44 334.41,556.37 334.62,555.47 334.84,554.85 335.06,554.14 335.28,552.72 335.50,553.92 335.83,552.83 336.17,551.82 336.50,550.78 336.83,551.94 337.17,550.84 337.50,549.25 337.76,549.82 338.02,550.00 338.28,548.19 338.54,547.85 338.80,546.74 339.10,546.10 339.40,546.68 339.70,547.44 340.00,545.07 340.09,544.38 340.18,544.41 340.27,543.17 340.36,543.28 340.45,542.80 340.55,541.09 340.64,540.50 340.73,540.59 340.82,540.62 340.91,539.72 341.00,539.78 341.11,537.55 341.22,538.14 341.33,536.86 341.44,536.73 341.56,536.29 341.67,534.89 341.78,534.77 341.89,533.60 342.00,533.92 342.50,532.59 343.00,532.19 343.75,532.64 343.85,532.66 343.94,534.38 344.04,533.83 344.13,535.34 344.23,535.56 344.33,535.31 344.42,536.40 344.52,536.59 344.62,537.46 344.71,538.10 344.81,539.99 344.90,539.16 345.00,540.99 345.10,540.86 345.19,540.33 345.29,540.27 345.38,542.74 345.48,541.63 345.58,543.91 345.67,544.69 345.77,544.86 345.87,545.06 345.96,545.61 346.06,546.51 346.15,546.73 346.25,547.16 346.56,547.77 346.88,549.24 347.19,548.61 347.50,549.74 347.92,549.36 348.33,550.22 348.75,550.38 349.01,550.56 349.27,550.55 349.54,549.75 349.80,548.69 350.12,548.88 350.43,547.78 350.75,547.73 350.81,547.11 350.86,546.71 350.92,544.24 350.98,544.41 351.03,545.15 351.09,544.03 351.15,544.94 351.20,542.82 351.26,542.05 351.32,542.77 351.37,541.62 351.43,541.89 351.49,540.45 351.54,539.44 351.60,539.46 351.66,537.95 351.73,537.61 351.79,536.99 351.86,536.65 351.92,536.72 351.99,535.38 352.05,535.33 352.11,534.26 352.18,534.57 352.24,531.73 352.31,532.78 352.37,532.46 352.44,531.13 352.50,531.89 352.54,531.96 352.57,533.20 352.61,533.57 352.64,533.95 352.68,534.02 352.71,534.01 352.75,535.13 352.78,535.55 352.82,536.57 352.85,536.69 352.89,539.48 352.92,537.13 352.96,539.44 352.99,538.98 353.03,539.70 353.06,541.01 353.10,541.00 353.14,540.80 353.18,542.38 353.22,542.56 353.26,541.96 353.30,543.94 353.34,543.71 353.38,544.47 353.43,545.80 353.47,546.25 353.51,546.44 353.55,548.55 353.59,548.01 353.63,547.93 353.67,549.02 353.71,549.36 353.75,548.62 353.84,549.58 353.94,550.27 354.03,553.01 354.12,552.17 354.21,552.68 354.31,553.07 354.40,554.62 354.50,554.60 354.60,556.24 354.70,556.24 354.80,557.37 354.90,556.84 355.00,557.74 355.10,557.81 355.20,558.56 355.30,558.16 355.40,559.47 355.50,559.82 355.60,560.59 355.69,562.33 355.79,562.31 355.88,563.48 355.97,563.82 356.06,564.43 356.16,565.06 356.25,564.62 356.36,566.07 356.46,565.94 356.57,566.38 356.68,568.03 356.79,569.21 356.89,567.82 357.00,570.09 357.17,570.10 357.33,569.64 357.50,570.92 357.67,571.57 357.83,572.15 358.00,572.28 358.17,572.27 358.34,573.66 358.51,574.75 358.69,575.28 358.86,575.77 359.03,576.62 359.20,575.88 359.42,577.06 359.63,577.88 359.85,578.88 360.07,578.93 360.28,579.74 360.50,580.08 361.00,580.98 361.50,577.97 362.00,578.98 362.58,580.72 363.17,579.48 363.75,578.35 364.10,580.08 364.45,579.60 364.80,580.57 365.15,581.64 365.50,583.07 366.00,582.54 366.50,582.92 367.00,583.39 367.50,583.13 367.90,582.06 368.30,582.14 368.70,582.01 369.10,581.23 369.50,580.58 370.08,580.44 370.67,579.39 371.25,579.36 371.70,579.54 372.15,578.97 372.60,578.82 373.05,579.28 373.50,578.19 374.05,577.63 374.60,576.57 375.15,576.28 375.70,576.84 376.25,575.70 376.83,576.27 377.42,575.08 378.00,575.58 378.50,575.02 379.00,575.25 379.50,573.94 380.00,573.52 380.67,573.82 381.33,573.62 382.00,574.56 382.58,573.01 383.17,572.50 383.75,572.30 384.19,572.30 384.62,571.65 385.06,571.43 385.50,569.63 386.00,571.61 386.50,570.78 387.00,569.17 387.50,567.99 387.83,568.31 388.17,567.93 388.50,565.73 388.83,566.59 389.17,565.12 389.50,565.79 389.79,565.86 390.08,565.15 390.38,563.06 390.67,564.36 390.96,563.57 391.25,562.27 391.46,562.23 391.67,562.28 391.88,560.54 392.08,560.16 392.29,559.23 392.50,559.72 392.68,557.08 392.86,558.75 393.04,556.68 393.21,557.29 393.39,555.13 393.57,554.99 393.75,554.63 393.81,556.09 393.88,555.13 393.94,557.09 394.01,556.89 394.07,558.63 394.14,558.23 394.20,559.30 394.25,559.48 394.30,561.29 394.35,560.52 394.40,561.32 394.45,563.16 394.50,562.55 394.53,562.38 394.55,560.93 394.58,560.97 394.61,558.87 394.63,559.80 394.66,558.78 394.68,557.69 394.71,557.19 394.74,558.24 394.76,557.24 394.79,555.47 394.82,557.00 394.84,554.88 394.87,554.53 394.89,554.36 394.92,552.95 394.95,552.09 394.97,552.09 395.00,552.74 395.03,552.04 395.06,549.89 395.09,551.08 395.12,549.79 395.15,549.52 395.18,548.68 395.21,548.35 395.24,546.90 395.26,546.40 395.29,545.97 395.32,545.62 395.35,545.68 395.38,543.97 395.41,545.17 395.44,543.22 395.47,542.69 395.50,542.94 396.00,542.52 396.50,541.79 397.00,540.96 397.50,540.62 397.72,539.71 397.93,540.88 398.15,540.30 398.37,540.25 398.58,538.85 398.80,538.21 399.04,537.87 399.28,537.40 399.52,536.04 399.76,535.82 400.00,536.35 400.24,533.44 400.48,533.12 400.72,532.90 400.96,533.47 401.20,533.24 401.46,531.79 401.72,531.92 401.98,530.97 402.24,530.69 402.50,529.66 403.15,530.48 403.80,531.00 404.40,531.83 405.00,532.65 405.60,529.74 406.20,530.83 406.85,530.50 407.50,531.11 407.93,531.66 408.37,531.99 408.80,532.51 409.20,531.99 409.60,532.10 410.00,533.94 410.42,534.26 410.83,534.39 411.25,535.02 411.67,535.33 412.08,535.34 412.50,536.10 412.92,536.34 413.33,537.05 413.75,537.30 414.17,537.75 414.58,538.11 415.00,538.72 415.42,539.24 415.83,539.42 416.25,539.66 416.67,540.50 417.08,540.84 417.50,541.08 417.92,541.40 418.33,541.78 418.75,542.19 419.17,542.90 419.58,543.44 420.00,543.63 420.42,544.12 420.83,544.47 421.25,544.85 421.67,545.31 422.08,545.87 422.50,545.93 422.92,546.56 423.33,547.04 423.75,547.34 424.17,547.82 424.58,548.14 425.00,548.87 425.40,548.27 425.80,547.84 426.20,547.51 426.63,546.98 427.07,546.55 427.50,546.22 427.93,546.84 428.37,547.06 428.80,547.56 429.20,547.75 429.60,548.11 430.00,548.96 430.50,549.14 431.00,549.45 431.50,550.05 432.00,550.57 432.44,550.68 432.88,551.15 433.31,551.66 433.75,551.89 434.31,551.84 434.88,551.61 435.44,551.30 436.00,550.95 436.55,550.79 437.10,550.53 437.65,550.38 438.20,550.24 438.75,549.97 438.84,549.54 438.94,549.16 439.03,548.22 439.12,547.75 439.21,547.24 439.31,546.65 439.40,545.97 439.50,545.36 439.60,544.95 439.70,544.32 439.80,543.73 439.90,542.99 440.00,542.74 440.10,543.39 440.20,543.60 440.30,544.50 440.40,545.67 440.50,544.69 440.60,546.23 440.93,546.30 441.25,546.97 441.60,547.91 441.95,548.71 442.30,549.02 442.65,549.05 443.00,549.44 443.40,550.28 443.80,551.01 444.20,551.18 444.60,551.42 445.00,553.18 445.62,552.30 446.25,552.69 446.88,552.66 447.50,552.77 448.12,553.02 448.75,552.88 449.38,553.24 450.00,552.54 450.62,552.67 451.25,554.25 451.88,553.72 452.50,554.30 453.12,554.71 453.75,554.71 454.38,554.76 455.00,554.40 455.62,554.38 456.25,555.38 456.88,555.26 457.50,555.22 458.12,554.23 458.75,553.92 459.38,554.22 460.00,554.04 460.24,554.06 460.48,553.10 460.72,553.61 460.96,552.26 461.20,551.78 461.52,551.83 461.85,551.13 462.18,550.15 462.50,550.32 463.12,550.62 463.75,549.27 464.38,549.53 465.00,549.08 465.62,548.56 466.25,549.37 466.88,549.21 467.50,549.13 468.12,548.73 468.75,547.59 469.38,548.18 470.00,547.74 470.62,547.29 471.25,547.07 471.88,547.55 472.50,546.88 473.12,547.64 473.75,546.93 474.38,545.88 475.00,546.85 475.62,546.92 476.25,546.39 476.88,545.84 477.50,546.94 478.12,545.93 478.75,546.59 479.38,546.07 480.00,546.51 480.62,546.46 481.25,547.67 481.88,547.83 482.50,547.34 483.00,547.35 483.50,548.23 484.00,548.77 484.50,548.41 485.08,548.88 485.67,549.63 486.25,550.27 486.83,549.86 487.42,549.84 488.00,549.01 488.67,548.53 489.33,549.62 490.00,549.14 490.30,548.70 490.60,547.85 491.25,547.69 491.88,547.70 492.50,549.06 493.12,548.64 493.75,548.96 494.31,548.81 494.88,548.78 495.44,548.35 496.00,547.32 496.55,547.65 497.10,548.53 497.65,547.88 498.20,547.82 498.75,547.68 499.06,547.75 499.38,548.24 499.69,548.75 500.00,549.95 500.42,550.23 500.83,551.36 501.25,551.44 501.83,552.41 502.42,552.26 503.00,552.04 503.50,553.49 504.00,553.26 504.50,553.90 505.00,553.83 505.62,553.68 506.25,553.94 506.88,553.50 507.50,553.53 508.12,553.78 508.75,554.04 509.38,553.84 510.00,554.46 510.50,554.92 511.00,555.90 511.50,556.12 512.00,555.68 512.50,556.35 513.12,556.16 513.75,556.65 514.38,556.74 515.00,556.79 515.62,557.15 516.25,556.67 516.88,557.55 517.50,557.39 518.12,557.20 518.75,557.61 519.38,558.09 520.00,557.73 520.60,557.94 521.20,557.72 521.85,557.86 522.50,556.57 522.93,557.46 523.37,558.20 523.80,559.09 524.40,559.10 525.00,559.80 525.20,558.26 525.40,557.94 525.60,558.15 525.76,556.76 525.92,557.10 526.09,555.34 526.25,554.89 526.32,553.77 526.38,554.05 526.44,553.30 526.51,553.40 526.58,552.07 526.64,551.30 526.70,550.24 526.77,550.17 526.84,549.97 526.90,549.29 526.95,548.89 527.01,548.29 527.06,547.20 527.12,546.96 527.17,546.14 527.23,544.73 527.28,545.79 527.34,544.48 527.39,543.11 527.45,543.30 527.50,542.66 527.58,542.48 527.65,542.17 527.73,539.17 527.81,540.57 527.88,540.54 527.96,538.63 528.04,537.58 528.11,538.18 528.19,537.65 528.26,537.10 528.34,535.75 528.42,535.54 528.49,535.34 528.57,535.08 528.65,535.31 528.72,533.72 528.80,532.67 528.89,531.14 528.97,532.44 529.06,531.21 529.14,530.65 529.23,529.60 529.31,529.97 529.40,528.02 529.49,528.49 529.57,527.92 529.66,527.45 529.74,527.43 529.83,526.09 529.91,525.62 530.00,525.47 530.10,523.61 530.20,523.76 530.30,523.41 530.40,523.35 530.50,521.86 530.60,522.19 530.70,521.42 530.80,519.86 530.90,519.32 531.00,518.80 531.10,519.12 531.20,518.61 531.32,518.35 531.44,517.86 531.55,516.56 531.67,516.90 531.79,516.22 531.91,515.48 532.03,514.94 532.15,513.43 532.26,513.79 532.38,512.48 532.50,511.85 532.67,511.73 532.83,511.41 533.00,510.72 533.17,509.99 533.33,509.04 533.50,509.10 533.70,508.04 533.90,507.13 534.10,507.40 534.30,507.59 534.50,506.03 534.95,505.04 535.40,505.76 535.83,505.31 536.25,503.59 536.88,503.51 537.50,503.62 538.12,504.99 538.75,503.32 539.80,504.04 540.75,503.99 540.86,503.30 540.97,504.23 541.08,504.70 541.18,506.15 541.29,506.52 541.40,507.98 541.52,507.45 541.64,508.37 541.76,508.84 541.88,509.48 542.00,511.27 542.08,510.70 542.16,511.90 542.25,512.35 542.33,511.85 542.41,513.10 542.49,513.06 542.57,513.88 542.65,514.45 542.74,514.92 542.82,515.20 542.90,516.85 542.98,516.45 543.05,517.57 543.13,518.69 543.21,518.71 543.29,519.52 543.36,520.31 543.44,520.73 543.52,521.67 543.60,520.54 543.67,522.98 543.75,522.52 543.85,522.08 543.96,523.23 544.06,523.36 544.17,524.65 544.27,524.39 544.38,525.20 544.48,526.45 544.58,526.92 544.69,526.94 544.79,527.79 544.90,528.40 545.00,529.03 545.11,529.54 545.23,530.01 545.34,530.94 545.45,530.62 545.57,531.55 545.68,532.32 545.80,532.68 545.91,533.17 546.02,533.76 546.14,534.53 546.25,535.44 546.41,535.50 546.56,536.03 546.72,536.81 546.88,537.17 547.03,537.14 547.19,538.47 547.34,538.81 547.50,539.30 547.66,540.25 547.81,540.58 547.97,540.90 548.12,540.86 548.28,541.55 548.44,542.69 548.59,543.18 548.75,543.90 549.04,544.37 549.33,544.67 549.62,544.93 549.92,545.53 550.21,546.41 550.50,546.60 550.83,547.76 551.17,547.54 551.50,547.87 551.83,548.93 552.17,548.88 552.50,550.57 553.00,550.03 553.50,550.73 554.00,551.04 554.50,551.21 554.94,551.26 555.38,551.60 555.81,552.93 556.25,553.36 556.69,554.13 557.12,553.24 557.56,554.32 558.00,554.50 558.50,555.05 559.00,554.82 559.50,555.50 560.00,555.81 560.50,555.46 561.00,555.51 561.50,554.69 562.00,555.04 562.58,554.00 563.17,554.58 563.75,552.79 564.17,554.17 564.58,554.30 565.00,555.00 565.42,555.78 565.83,556.08 566.25,556.28 566.83,556.76 567.42,555.57 568.00,555.72 568.67,556.36 569.33,555.78 570.00,555.29 570.50,555.23 571.00,554.78 571.50,554.75 572.00,554.41 572.50,553.95 573.00,553.83 573.50,553.32 574.00,553.19 574.50,552.86 575.00,552.49 575.50,551.96 576.00,551.67 576.50,551.07 577.00,550.84 577.50,550.31 577.92,550.20 578.33,549.57 578.75,549.01 579.17,548.89 579.58,548.45 580.00,547.95 580.42,547.80 580.83,547.24 581.25,546.76 581.67,546.27 582.08,545.62 582.50,545.55 582.92,545.18 583.33,544.61 583.75,544.11 584.17,543.83 584.58,543.25 585.00,543.00 585.42,542.66 585.83,542.32 586.25,541.78 586.67,541.35 587.08,540.99 587.50,540.64 587.86,540.04 588.21,539.52 588.57,539.14 588.93,538.66 589.29,538.27 589.64,537.92 590.00,537.53 590.38,537.02 590.75,536.51 591.12,535.96 591.50,535.54 591.88,535.15 592.25,534.70 592.62,534.34 593.00,533.63 593.14,534.19 593.29,535.50 593.43,535.44 593.57,536.06 593.71,536.29 593.86,537.35 594.00,537.34 594.14,537.63 594.29,538.55 594.43,538.93 594.57,539.98 594.71,540.03 594.86,540.76 595.00,541.16 595.40,541.97 595.80,542.16 596.20,543.44 596.63,542.93 597.07,543.85 597.50,544.22 598.15,544.26 598.80,543.52 599.40,543.19 600.00,542.37 600.60,542.71 601.20,543.05 601.85,543.49 602.50,543.54 602.83,543.28 603.17,542.73 603.50,542.39 604.00,541.58 604.50,540.95 604.95,541.45 605.40,542.52 605.83,543.27 606.25,544.53 606.47,543.24 606.68,543.29 606.90,542.75 607.10,540.91 607.30,541.15 607.50,540.00"/>
<text x="57.9" y="517.2" textLength="60.8" lengthAdjust="spacingAndGlyphs" style="font-family:'Liberation Sans',Arial,sans-serif;font-size:14.8px" fill="#111">Ingestion</text>
<path d="M82.30 525.10L56.26 558.15" stroke="#000" stroke-width="1.25" fill="none"/>
<polygon points="51.80,563.80 54.46,554.44 60.28,559.02" fill="#000"/>
<text x="172" y="643.4" textLength="44.0" lengthAdjust="spacingAndGlyphs" style="font-family:'Liberation Sans',Arial,sans-serif;font-size:14.8px" fill="#111">Gastric</text>
<text x="172" y="660.9" textLength="60.1" lengthAdjust="spacingAndGlyphs" style="font-family:'Liberation Sans',Arial,sans-serif;font-size:14.8px" fill="#111">emptying</text>
<path d="M172.00 648.70L140.11 656.24" stroke="#000" stroke-width="1.25" fill="none"/>
<polygon points="133.10,657.90 141.01,652.23 142.71,659.43" fill="#000"/>
<text x="328.9" y="489.6" textLength="64.3" lengthAdjust="spacingAndGlyphs" style="font-family:'Liberation Sans',Arial,sans-serif;font-size:14.8px" fill="#111">Ileocaecal</text>
<text x="328.5" y="507.7" textLength="53.3" lengthAdjust="spacingAndGlyphs" style="font-family:'Liberation Sans',Arial,sans-serif;font-size:14.8px" fill="#111">junction</text>
<path d="M353.80 511.20L325.63 517.44" stroke="#000" stroke-width="1.25" fill="none"/>
<polygon points="318.60,519.00 326.59,513.44 328.19,520.67" fill="#000"/>
<text x="541.5" y="465" textLength="60.0" lengthAdjust="spacingAndGlyphs" style="font-family:'Liberation Sans',Arial,sans-serif;font-size:14.8px" fill="#111">Body exit</text>
<path d="M567.75 448.75L597.86 430.27" stroke="#000" stroke-width="1.25" fill="none"/>
<polygon points="604.00,426.50 598.27,434.36 594.39,428.05" fill="#000"/>
<text x="181.2" y="438.5" style="font-family:'Liberation Sans',Arial,sans-serif;font-size:14.8px" fill="#111"><tspan textLength="57.2" lengthAdjust="spacingAndGlyphs">SmartPill</tspan><tspan dx="0.5" dy="-5" style="font-size:10px">®</tspan></text>
<path d="M331.40 621.60L398.10 621.60" stroke="#000" stroke-width="1.15" stroke-dasharray="2.5 2" fill="none"/>
<polygon points="404.50,621.60 396.50,625.30 396.50,617.90" fill="#000"/>
<polygon points="325.00,621.60 333.00,617.90 333.00,625.30" fill="#000"/>
<text x="353.75" y="619.2" textLength="30.0" lengthAdjust="spacingAndGlyphs" style="font-family:'Liberation Sans',Arial,sans-serif;font-size:14.8px" fill="#111">32%</text>
<text x="333.75" y="638.5" textLength="60.8" lengthAdjust="spacingAndGlyphs" style="font-family:'Liberation Sans',Arial,sans-serif;font-size:14.8px" fill="#111">Proximal</text>
<path d="M423.10 621.60L500.80 621.60" stroke="#000" stroke-width="1.15" stroke-dasharray="2.5 2" fill="none"/>
<polygon points="507.20,621.60 499.20,625.30 499.20,617.90" fill="#000"/>
<polygon points="416.70,621.60 424.70,617.90 424.70,625.30" fill="#000"/>
<text x="451.4" y="619.2" textLength="30.6" lengthAdjust="spacingAndGlyphs" style="font-family:'Liberation Sans',Arial,sans-serif;font-size:14.8px" fill="#111">33%</text>
<text x="443.1" y="638.5" textLength="39.9" lengthAdjust="spacingAndGlyphs" style="font-family:'Liberation Sans',Arial,sans-serif;font-size:14.8px" fill="#111">Distal</text>
<path d="M521.50 621.60L599.20 621.60" stroke="#000" stroke-width="1.15" stroke-dasharray="2.5 2" fill="none"/>
<polygon points="605.60,621.60 597.60,625.30 597.60,617.90" fill="#000"/>
<polygon points="515.10,621.60 523.10,617.90 523.10,625.30" fill="#000"/>
<text x="549.5" y="619.2" textLength="30.0" lengthAdjust="spacingAndGlyphs" style="font-family:'Liberation Sans',Arial,sans-serif;font-size:14.8px" fill="#111">35%</text>
<text x="530.5" y="638.5" textLength="58.2" lengthAdjust="spacingAndGlyphs" style="font-family:'Liberation Sans',Arial,sans-serif;font-size:14.8px" fill="#111">Sigmoid</text>
<path d="M564.40 575.60L602.90 575.60" stroke="#000" stroke-width="1.15" stroke-dasharray="2.5 2" fill="none"/>
<polygon points="609.30,575.60 601.30,579.30 601.30,571.90" fill="#000"/>
<polygon points="558.00,575.60 566.00,571.90 566.00,579.30" fill="#000"/>
<text x="561.7" y="570.3" textLength="43.6" lengthAdjust="spacingAndGlyphs" style="font-family:'Liberation Sans',Arial,sans-serif;font-size:14.8px" fill="#111">10 min</text>
<text x="565.7" y="593.3" textLength="39.6" lengthAdjust="spacingAndGlyphs" style="font-family:'Liberation Sans',Arial,sans-serif;font-size:14.8px" fill="#111">Rectal</text>
<defs>
<filter id="bl" x="-10%" y="-10%" width="120%" height="120%"><feGaussianBlur stdDeviation="0.55"/></filter>
<filter id="bl2" x="-20%" y="-20%" width="140%" height="140%"><feGaussianBlur stdDeviation="1.1"/></filter>
<linearGradient id="pb" x1="0" y1="0" x2="0" y2="1"><stop offset="0" stop-color="#f5e8b4"/><stop offset="0.14" stop-color="#e9c45e"/><stop offset="0.3" stop-color="#e8bd50"/><stop offset="0.44" stop-color="#f1d88e"/><stop offset="0.62" stop-color="#f3dea0"/><stop offset="0.76" stop-color="#e7ba4e"/><stop offset="0.9" stop-color="#e3b448"/><stop offset="1" stop-color="#ead294"/></linearGradient>
<radialGradient id="pc" cx="0.45" cy="0.5" r="0.6"><stop offset="0" stop-color="#b4b5ad"/><stop offset="0.5" stop-color="#cfcfc7"/><stop offset="0.85" stop-color="#e6e5de"/><stop offset="1" stop-color="#f3f2ee"/></radialGradient>
</defs>
<g transform="rotate(5 216 460)" filter="url(#bl)">
<path d="M196 446.6H221V473.6H196C190.5 473.6 187.2 468 187.2 460C187.2 452 190.5 446.6 196 446.6Z" fill="url(#pb)"/>
<g filter="url(#bl2)">
<ellipse cx="198" cy="459" rx="6" ry="6" fill="#fbf2cc" opacity="0.85"/>
<ellipse cx="209" cy="461" rx="5.5" ry="6" fill="#fdf6d8" opacity="0.8"/>
<ellipse cx="206" cy="451" rx="9" ry="2" fill="#f7e7ac" opacity="0.8"/>
<ellipse cx="205" cy="468.5" rx="10" ry="2.2" fill="#d99f2c" opacity="0.7"/>
<rect x="213" y="449" width="2.2" height="22" fill="#d9a431" opacity="0.6"/>
</g>
<rect x="218.8" y="444.4" width="6.4" height="31.6" rx="2.6" fill="#e6deb4"/>
<rect x="220.6" y="446" width="1.6" height="28" fill="#c5cf98" opacity="0.8"/>
<path d="M224.6 446.8H234C241.5 446.8 246.6 452.4 246.6 460.4C246.6 468.4 241.5 474 234 474H224.6Z" fill="url(#pc)"/>
<g filter="url(#bl2)">
<ellipse cx="232.5" cy="461" rx="5.2" ry="7" fill="#8f918a" opacity="0.75"/>
<ellipse cx="229.5" cy="455.5" rx="3" ry="3" fill="#ffffff" opacity="0.95"/>
<ellipse cx="238.5" cy="457" rx="2.6" ry="4" fill="#f8f8f5" opacity="0.9"/>
<ellipse cx="241.5" cy="463" rx="1.6" ry="2.4" fill="#c9a86a" opacity="0.7"/>
<ellipse cx="229" cy="468" rx="3.4" ry="2.4" fill="#fbfbf8" opacity="0.9"/>
</g>
</g>
</svg>
</body></html>
